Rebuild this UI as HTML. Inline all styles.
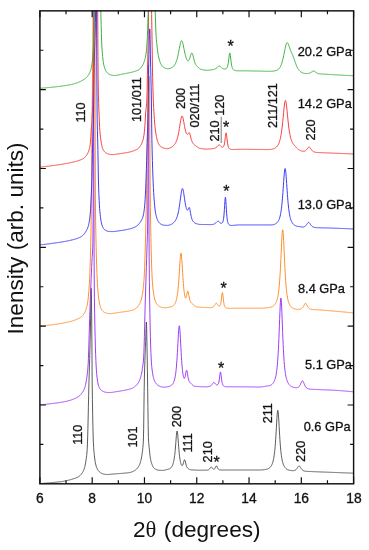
<!DOCTYPE html>
<html lang="en"><head><meta charset="utf-8"><title>XRD patterns</title>
<style>html,body{margin:0;padding:0;background:#fff}svg{display:block}</style></head>
<body>
<svg width="369" height="550" viewBox="0 0 369 550">
<rect width="369" height="550" fill="#fff"/>
<defs><clipPath id="cp"><rect x="39.90" y="10.85" width="313.70" height="472.95"/></clipPath></defs>
<g clip-path="url(#cp)" fill="none" stroke-width="1.0" stroke-linejoin="round">
<path d="M39.90 483.58 L40.15 483.56 L40.40 483.54 L40.65 483.53 L40.90 483.51 L41.15 483.49 L41.40 483.48 L41.65 483.46 L41.90 483.44 L42.15 483.43 L42.40 483.41 L42.65 483.39 L42.90 483.37 L43.15 483.35 L43.40 483.34 L43.65 483.32 L43.90 483.30 L44.15 483.28 L44.40 483.26 L44.65 483.24 L44.90 483.22 L45.15 483.20 L45.40 483.18 L45.65 483.16 L45.90 483.14 L46.15 483.12 L46.40 483.10 L46.65 483.08 L46.90 483.06 L47.15 483.04 L47.40 483.02 L47.65 482.99 L47.90 482.97 L48.15 482.95 L48.40 482.93 L48.65 482.91 L48.90 482.89 L49.15 482.86 L49.40 482.84 L49.65 482.82 L49.90 482.80 L50.15 482.77 L50.40 482.75 L50.65 482.73 L50.90 482.70 L51.15 482.68 L51.40 482.66 L51.65 482.63 L51.90 482.61 L52.15 482.59 L52.40 482.56 L52.65 482.54 L52.90 482.51 L53.15 482.49 L53.40 482.47 L53.65 482.44 L53.90 482.42 L54.15 482.40 L54.40 482.37 L54.65 482.35 L54.90 482.32 L55.15 482.30 L55.40 482.27 L55.65 482.25 L55.90 482.22 L56.15 482.20 L56.40 482.17 L56.65 482.15 L56.90 482.12 L57.15 482.09 L57.40 482.07 L57.65 482.04 L57.90 482.01 L58.15 481.99 L58.40 481.96 L58.65 481.93 L58.90 481.90 L59.15 481.87 L59.40 481.84 L59.65 481.81 L59.90 481.78 L60.15 481.75 L60.40 481.72 L60.65 481.69 L60.90 481.65 L61.15 481.62 L61.40 481.59 L61.65 481.55 L61.90 481.52 L62.15 481.48 L62.40 481.45 L62.65 481.41 L62.90 481.37 L63.15 481.33 L63.40 481.30 L63.65 481.26 L63.90 481.22 L64.15 481.18 L64.40 481.13 L64.65 481.09 L64.90 481.04 L65.15 480.99 L65.40 480.95 L65.65 480.90 L65.90 480.84 L66.15 480.79 L66.40 480.73 L66.65 480.68 L66.90 480.62 L67.15 480.56 L67.40 480.50 L67.65 480.44 L67.90 480.38 L68.15 480.31 L68.40 480.25 L68.65 480.18 L68.90 480.12 L69.15 480.05 L69.40 479.98 L69.65 479.91 L69.90 479.84 L70.15 479.77 L70.40 479.70 L70.65 479.62 L70.90 479.55 L71.15 479.48 L71.40 479.40 L71.65 479.33 L71.90 479.25 L72.15 479.18 L72.40 479.10 L72.65 479.02 L72.90 478.94 L73.15 478.87 L73.40 478.79 L73.65 478.71 L73.90 478.63 L74.15 478.55 L74.40 478.47 L74.65 478.40 L74.90 478.32 L75.15 478.23 L75.40 478.15 L75.65 478.06 L75.90 477.98 L76.15 477.88 L76.40 477.79 L76.65 477.69 L76.90 477.58 L77.15 477.47 L77.40 477.35 L77.65 477.22 L77.90 477.09 L78.15 476.94 L78.40 476.79 L78.65 476.63 L78.90 476.45 L79.15 476.27 L79.40 476.07 L79.65 475.87 L79.90 475.66 L80.15 475.43 L80.40 475.20 L80.65 474.95 L80.90 474.68 L81.15 474.40 L81.40 474.09 L81.65 473.76 L81.90 473.41 L82.15 473.04 L82.40 472.64 L82.65 472.22 L82.90 471.77 L83.15 471.30 L83.40 470.79 L83.65 470.23 L83.90 469.61 L84.15 468.92 L84.40 468.17 L84.65 467.34 L84.90 466.42 L85.15 465.31 L85.40 464.03 L85.65 462.60 L85.90 461.03 L86.15 459.36 L86.40 457.58 L86.65 455.53 L86.90 453.05 L87.15 449.80 L87.40 445.00 L87.65 438.00 L87.90 428.72 L88.15 417.98 L88.40 406.57 L88.65 395.31 L88.90 385.00 L89.15 375.81 L89.40 367.12 L89.65 358.57 L89.90 349.78 L90.15 340.38 L90.40 330.00 L90.65 315.06 L90.90 298.20 L91.15 288.34 L91.40 294.67 L91.65 315.44 L91.90 342.51 L92.15 380.26 L92.40 399.18 L92.65 414.23 L92.90 426.45 L93.15 435.96 L93.40 442.91 L93.65 447.52 L93.90 450.68 L94.15 453.32 L94.40 455.83 L94.65 458.08 L94.90 459.97 L95.15 461.46 L95.40 462.79 L95.65 463.97 L95.90 465.02 L96.15 465.92 L96.40 466.70 L96.65 467.38 L96.90 468.02 L97.15 468.60 L97.40 469.13 L97.65 469.60 L97.90 470.03 L98.15 470.40 L98.40 470.72 L98.65 471.02 L98.90 471.30 L99.15 471.56 L99.40 471.80 L99.65 472.02 L99.90 472.23 L100.15 472.42 L100.40 472.59 L100.65 472.75 L100.90 472.90 L101.15 473.04 L101.40 473.17 L101.65 473.29 L101.90 473.41 L102.15 473.52 L102.40 473.63 L102.65 473.72 L102.90 473.81 L103.15 473.90 L103.40 473.97 L103.65 474.04 L103.90 474.10 L104.15 474.16 L104.40 474.21 L104.65 474.26 L104.90 474.32 L105.15 474.36 L105.40 474.40 L105.65 474.44 L105.90 474.47 L106.15 474.49 L106.40 474.50 L106.65 474.50 L106.90 474.50 L107.15 474.49 L107.40 474.49 L107.65 474.48 L107.90 474.47 L108.15 474.46 L108.40 474.45 L108.65 474.44 L108.90 474.42 L109.15 474.41 L109.40 474.39 L109.65 474.37 L109.90 474.35 L110.15 474.33 L110.40 474.31 L110.65 474.29 L110.90 474.27 L111.15 474.25 L111.40 474.22 L111.65 474.20 L111.90 474.18 L112.15 474.15 L112.40 474.13 L112.65 474.10 L112.90 474.08 L113.15 474.06 L113.40 474.03 L113.65 474.01 L113.90 473.98 L114.15 473.96 L114.40 473.94 L114.65 473.91 L114.90 473.89 L115.15 473.87 L115.40 473.85 L115.65 473.83 L115.90 473.81 L116.15 473.79 L116.40 473.77 L116.65 473.75 L116.90 473.73 L117.15 473.72 L117.40 473.70 L117.65 473.68 L117.90 473.66 L118.15 473.65 L118.40 473.63 L118.65 473.61 L118.90 473.59 L119.15 473.58 L119.40 473.56 L119.65 473.54 L119.90 473.52 L120.15 473.51 L120.40 473.49 L120.65 473.47 L120.90 473.45 L121.15 473.43 L121.40 473.42 L121.65 473.40 L121.90 473.38 L122.15 473.36 L122.40 473.34 L122.65 473.32 L122.90 473.30 L123.15 473.28 L123.40 473.25 L123.65 473.23 L123.90 473.21 L124.15 473.19 L124.40 473.16 L124.65 473.14 L124.90 473.12 L125.15 473.10 L125.40 473.07 L125.65 473.05 L125.90 473.03 L126.15 473.01 L126.40 472.98 L126.65 472.96 L126.90 472.93 L127.15 472.90 L127.40 472.88 L127.65 472.85 L127.90 472.82 L128.15 472.79 L128.40 472.75 L128.65 472.72 L128.90 472.68 L129.15 472.65 L129.40 472.61 L129.65 472.56 L129.90 472.52 L130.15 472.47 L130.40 472.41 L130.65 472.35 L130.90 472.28 L131.15 472.20 L131.40 472.11 L131.65 472.02 L131.90 471.92 L132.15 471.82 L132.40 471.71 L132.65 471.60 L132.90 471.49 L133.15 471.37 L133.40 471.25 L133.65 471.13 L133.90 470.99 L134.15 470.85 L134.40 470.71 L134.65 470.55 L134.90 470.38 L135.15 470.21 L135.40 470.02 L135.65 469.83 L135.90 469.63 L136.15 469.41 L136.40 469.19 L136.65 468.96 L136.90 468.71 L137.15 468.44 L137.40 468.16 L137.65 467.85 L137.90 467.52 L138.15 467.17 L138.40 466.80 L138.65 466.39 L138.90 465.96 L139.15 465.51 L139.40 464.99 L139.65 464.40 L139.90 463.74 L140.15 463.01 L140.40 462.21 L140.65 461.35 L140.90 460.41 L141.15 459.33 L141.40 458.09 L141.65 456.71 L141.90 455.20 L142.15 453.56 L142.40 451.75 L142.65 449.66 L142.90 447.21 L143.15 444.29 L143.40 440.00 L143.65 428.85 L143.90 410.66 L144.15 391.39 L144.40 377.00 L144.65 367.96 L144.90 360.42 L145.15 353.83 L145.40 347.65 L145.65 341.33 L145.90 333.69 L146.15 325.70 L146.40 322.00 L146.65 328.18 L146.90 340.00 L147.15 353.97 L147.40 370.56 L147.65 387.23 L147.90 406.41 L148.15 424.54 L148.40 437.33 L148.65 442.36 L148.90 445.13 L149.15 447.29 L149.40 449.75 L149.65 452.45 L149.90 454.94 L150.15 456.82 L150.40 458.31 L150.65 459.63 L150.90 460.79 L151.15 461.80 L151.40 462.68 L151.65 463.46 L151.90 464.18 L152.15 464.85 L152.40 465.47 L152.65 466.03 L152.90 466.52 L153.15 466.95 L153.40 467.30 L153.65 467.61 L153.90 467.90 L154.15 468.17 L154.40 468.42 L154.65 468.65 L154.90 468.85 L155.15 469.04 L155.40 469.21 L155.65 469.35 L155.90 469.46 L156.15 469.55 L156.40 469.64 L156.65 469.73 L156.90 469.81 L157.15 469.88 L157.40 469.95 L157.65 470.02 L157.90 470.07 L158.15 470.13 L158.40 470.17 L158.65 470.21 L158.90 470.25 L159.15 470.27 L159.40 470.29 L159.65 470.31 L159.90 470.32 L160.15 470.33 L160.40 470.34 L160.65 470.35 L160.90 470.36 L161.15 470.37 L161.40 470.38 L161.65 470.38 L161.90 470.39 L162.15 470.39 L162.40 470.40 L162.65 470.40 L162.90 470.40 L163.15 470.40 L163.40 470.38 L163.65 470.36 L163.90 470.33 L164.15 470.28 L164.40 470.23 L164.65 470.17 L164.90 470.11 L165.15 470.04 L165.40 469.97 L165.65 469.90 L165.90 469.82 L166.15 469.75 L166.40 469.67 L166.65 469.60 L166.90 469.52 L167.15 469.46 L167.40 469.40 L167.65 469.34 L167.90 469.28 L168.15 469.22 L168.40 469.16 L168.65 469.10 L168.90 469.03 L169.15 468.95 L169.40 468.86 L169.65 468.75 L169.90 468.63 L170.15 468.48 L170.40 468.30 L170.65 468.10 L170.90 467.87 L171.15 467.60 L171.40 467.30 L171.65 466.95 L171.90 466.55 L172.15 466.10 L172.40 465.59 L172.65 465.00 L172.90 464.31 L173.15 463.53 L173.40 462.62 L173.65 461.57 L173.90 460.36 L174.15 458.99 L174.40 457.38 L174.65 455.49 L174.90 453.30 L175.15 450.79 L175.40 447.97 L175.65 444.88 L175.90 441.62 L176.15 438.36 L176.40 435.34 L176.65 432.89 L176.90 431.37 L177.15 431.03 L177.40 431.93 L177.65 433.93 L177.90 436.71 L178.15 439.93 L178.40 443.28 L178.65 446.55 L178.90 449.60 L179.15 452.36 L179.40 454.79 L179.65 456.89 L179.90 458.69 L180.15 460.20 L180.40 461.48 L180.65 462.58 L180.90 463.50 L181.15 464.24 L181.40 464.83 L181.65 465.25 L181.90 465.50 L182.15 465.58 L182.40 465.50 L182.65 465.22 L182.90 464.74 L183.15 464.05 L183.40 463.20 L183.65 462.23 L183.90 461.24 L184.15 460.39 L184.40 459.83 L184.65 459.72 L184.90 460.09 L185.15 460.86 L185.40 461.88 L185.65 462.98 L185.90 464.05 L186.15 465.02 L186.40 465.85 L186.65 466.51 L186.90 467.04 L187.15 467.47 L187.40 467.83 L187.65 468.10 L187.90 468.32 L188.15 468.51 L188.40 468.67 L188.65 468.83 L188.90 468.98 L189.15 469.13 L189.40 469.27 L189.65 469.39 L189.90 469.50 L190.15 469.60 L190.40 469.68 L190.65 469.75 L190.90 469.79 L191.15 469.81 L191.40 469.83 L191.65 469.85 L191.90 469.87 L192.15 469.89 L192.40 469.91 L192.65 469.93 L192.90 469.95 L193.15 469.97 L193.40 469.98 L193.65 470.00 L193.90 470.01 L194.15 470.03 L194.40 470.04 L194.65 470.06 L194.90 470.07 L195.15 470.08 L195.40 470.09 L195.65 470.10 L195.90 470.12 L196.15 470.12 L196.40 470.13 L196.65 470.14 L196.90 470.15 L197.15 470.16 L197.40 470.17 L197.65 470.17 L197.90 470.18 L198.15 470.18 L198.40 470.19 L198.65 470.19 L198.90 470.19 L199.15 470.20 L199.40 470.20 L199.65 470.20 L199.90 470.20 L200.15 470.20 L200.40 470.20 L200.65 470.20 L200.90 470.20 L201.15 470.20 L201.40 470.20 L201.65 470.20 L201.90 470.20 L202.15 470.20 L202.40 470.20 L202.65 470.20 L202.90 470.20 L203.15 470.20 L203.40 470.20 L203.65 470.20 L203.90 470.20 L204.15 470.20 L204.40 470.20 L204.65 470.20 L204.90 470.20 L205.15 470.20 L205.40 470.20 L205.65 470.20 L205.90 470.20 L206.15 470.19 L206.40 470.18 L206.65 470.16 L206.90 470.14 L207.15 470.12 L207.40 470.08 L207.65 470.03 L207.90 469.97 L208.15 469.90 L208.40 469.79 L208.65 469.67 L208.90 469.51 L209.15 469.32 L209.40 469.08 L209.65 468.79 L209.90 468.45 L210.15 468.09 L210.40 467.72 L210.65 467.38 L210.90 467.12 L211.15 467.00 L211.40 467.05 L211.65 467.25 L211.90 467.55 L212.15 467.89 L212.40 468.24 L212.65 468.55 L212.90 468.82 L213.15 469.02 L213.40 469.15 L213.65 469.22 L213.90 469.22 L214.15 469.15 L214.40 469.00 L214.65 468.77 L214.90 468.44 L215.15 468.01 L215.40 467.50 L215.65 466.95 L215.90 466.43 L216.15 466.04 L216.40 465.90 L216.65 466.05 L216.90 466.44 L217.15 466.97 L217.40 467.53 L217.65 468.06 L217.90 468.52 L218.15 468.89 L218.40 469.17 L218.65 469.40 L218.90 469.57 L219.15 469.70 L219.40 469.80 L219.65 469.86 L219.90 469.91 L220.15 469.95 L220.40 469.97 L220.65 469.99 L220.90 470.00 L221.15 470.00 L221.40 470.00 L221.65 470.00 L221.90 470.00 L222.15 470.00 L222.40 470.00 L222.65 470.00 L222.90 470.00 L223.15 470.00 L223.40 470.00 L223.65 470.00 L223.90 470.00 L224.15 470.00 L224.40 470.00 L224.65 470.00 L224.90 470.00 L225.15 470.00 L225.40 470.00 L225.65 470.00 L225.90 470.00 L226.15 470.00 L226.40 470.00 L226.65 470.00 L226.90 470.00 L227.15 470.00 L227.40 470.00 L227.65 470.00 L227.90 470.00 L228.15 470.00 L228.40 470.00 L228.65 470.00 L228.90 470.00 L229.15 470.00 L229.40 470.00 L229.65 470.00 L229.90 470.00 L230.15 470.00 L230.40 470.00 L230.65 470.00 L230.90 470.00 L231.15 470.00 L231.40 470.00 L231.65 470.00 L231.90 470.00 L232.15 470.00 L232.40 470.00 L232.65 470.00 L232.90 470.00 L233.15 470.00 L233.40 470.00 L233.65 470.00 L233.90 470.00 L234.15 470.00 L234.40 470.00 L234.65 470.00 L234.90 470.00 L235.15 470.00 L235.40 470.00 L235.65 470.00 L235.90 470.00 L236.15 470.00 L236.40 470.00 L236.65 470.00 L236.90 470.00 L237.15 470.00 L237.40 470.00 L237.65 470.00 L237.90 470.00 L238.15 470.00 L238.40 470.00 L238.65 470.00 L238.90 470.00 L239.15 470.00 L239.40 470.00 L239.65 470.00 L239.90 470.00 L240.15 470.00 L240.40 470.00 L240.65 470.00 L240.90 470.00 L241.15 470.00 L241.40 470.00 L241.65 470.00 L241.90 470.00 L242.15 470.00 L242.40 470.00 L242.65 470.00 L242.90 470.00 L243.15 470.00 L243.40 470.00 L243.65 470.00 L243.90 470.00 L244.15 470.00 L244.40 470.00 L244.65 470.00 L244.90 470.00 L245.15 470.00 L245.40 470.00 L245.65 470.00 L245.90 470.00 L246.15 470.00 L246.40 470.00 L246.65 470.00 L246.90 470.00 L247.15 470.00 L247.40 470.00 L247.65 470.00 L247.90 470.00 L248.15 470.00 L248.40 470.00 L248.65 470.00 L248.90 470.00 L249.15 470.00 L249.40 470.00 L249.65 470.00 L249.90 470.00 L250.15 470.00 L250.40 470.00 L250.65 470.00 L250.90 470.00 L251.15 470.00 L251.40 470.00 L251.65 470.00 L251.90 470.00 L252.15 470.00 L252.40 470.00 L252.65 470.00 L252.90 470.00 L253.15 470.00 L253.40 470.00 L253.65 470.00 L253.90 470.00 L254.15 470.00 L254.40 470.00 L254.65 470.00 L254.90 470.00 L255.15 470.00 L255.40 470.00 L255.65 470.00 L255.90 470.00 L256.15 470.00 L256.40 470.00 L256.65 470.00 L256.90 470.00 L257.15 470.00 L257.40 470.00 L257.65 470.00 L257.90 470.00 L258.15 470.00 L258.40 470.00 L258.65 470.00 L258.90 470.00 L259.15 470.00 L259.40 470.00 L259.65 470.00 L259.90 470.00 L260.15 470.00 L260.40 470.00 L260.65 469.99 L260.90 469.98 L261.15 469.96 L261.40 469.95 L261.65 469.93 L261.90 469.90 L262.15 469.88 L262.40 469.86 L262.65 469.83 L262.90 469.80 L263.15 469.77 L263.40 469.74 L263.65 469.71 L263.90 469.68 L264.15 469.65 L264.40 469.61 L264.65 469.58 L264.90 469.55 L265.15 469.52 L265.40 469.49 L265.65 469.45 L265.90 469.40 L266.15 469.35 L266.40 469.30 L266.65 469.24 L266.90 469.17 L267.15 469.10 L267.40 469.02 L267.65 468.94 L267.90 468.84 L268.15 468.74 L268.40 468.62 L268.65 468.48 L268.90 468.34 L269.15 468.17 L269.40 467.99 L269.65 467.78 L269.90 467.56 L270.15 467.31 L270.40 467.03 L270.65 466.73 L270.90 466.39 L271.15 466.02 L271.40 465.61 L271.65 465.15 L271.90 464.64 L272.15 464.07 L272.40 463.43 L272.65 462.70 L272.90 461.88 L273.15 460.94 L273.40 459.87 L273.65 458.64 L273.90 457.23 L274.15 455.62 L274.40 453.80 L274.65 451.69 L274.90 449.27 L275.15 446.49 L275.40 443.34 L275.65 439.81 L275.90 435.93 L276.15 431.73 L276.40 427.32 L276.65 422.86 L276.90 418.60 L277.15 414.88 L277.40 412.05 L277.65 410.46 L277.90 410.33 L278.15 411.66 L278.40 414.29 L278.65 417.90 L278.90 422.10 L279.15 426.57 L279.40 431.03 L279.65 435.31 L279.90 439.29 L280.15 442.92 L280.40 446.17 L280.65 449.04 L280.90 451.56 L281.15 453.76 L281.40 455.66 L281.65 457.33 L281.90 458.80 L282.15 460.09 L282.40 461.22 L282.65 462.20 L282.90 463.07 L283.15 463.84 L283.40 464.52 L283.65 465.12 L283.90 465.66 L284.15 466.15 L284.40 466.59 L284.65 466.99 L284.90 467.35 L285.15 467.68 L285.40 467.98 L285.65 468.25 L285.90 468.50 L286.15 468.72 L286.40 468.92 L286.65 469.10 L286.90 469.27 L287.15 469.41 L287.40 469.55 L287.65 469.67 L287.90 469.77 L288.15 469.87 L288.40 469.95 L288.65 470.03 L288.90 470.09 L289.15 470.15 L289.40 470.20 L289.65 470.25 L289.90 470.29 L290.15 470.32 L290.40 470.36 L290.65 470.41 L290.90 470.45 L291.15 470.50 L291.40 470.54 L291.65 470.59 L291.90 470.63 L292.15 470.66 L292.40 470.69 L292.65 470.70 L292.90 470.70 L293.15 470.69 L293.40 470.67 L293.65 470.64 L293.90 470.60 L294.15 470.55 L294.40 470.49 L294.65 470.41 L294.90 470.31 L295.15 470.19 L295.40 470.04 L295.65 469.88 L295.90 469.69 L296.15 469.47 L296.40 469.21 L296.65 468.91 L296.90 468.58 L297.15 468.21 L297.40 467.83 L297.65 467.43 L297.90 467.03 L298.15 466.66 L298.40 466.33 L298.65 466.08 L298.90 465.93 L299.15 465.90 L299.40 466.00 L299.65 466.21 L299.90 466.51 L300.15 466.87 L300.40 467.27 L300.65 467.69 L300.90 468.10 L301.15 468.50 L301.40 468.87 L301.65 469.21 L301.90 469.51 L302.15 469.77 L302.40 470.00 L302.65 470.20 L302.90 470.38 L303.15 470.53 L303.40 470.67 L303.65 470.78 L303.90 470.88 L304.15 470.96 L304.40 471.03 L304.65 471.09 L304.90 471.15 L305.15 471.19 L305.40 471.23 L305.65 471.27 L305.90 471.30 L306.15 471.33 L306.40 471.35 L306.65 471.37 L306.90 471.39 L307.15 471.40 L307.40 471.41 L307.65 471.42 L307.90 471.43 L308.15 471.44 L308.40 471.45 L308.65 471.46 L308.90 471.47 L309.15 471.48 L309.40 471.49 L309.65 471.50 L309.90 471.51 L310.15 471.52 L310.40 471.53 L310.65 471.54 L310.90 471.55 L311.15 471.56 L311.40 471.57 L311.65 471.58 L311.90 471.59 L312.15 471.60 L312.40 471.61 L312.65 471.62 L312.90 471.63 L313.15 471.64 L313.40 471.65 L313.65 471.66 L313.90 471.67 L314.15 471.68 L314.40 471.69 L314.65 471.70 L314.90 471.71 L315.15 471.72 L315.40 471.73 L315.65 471.74 L315.90 471.75 L316.15 471.76 L316.40 471.77 L316.65 471.78 L316.90 471.79 L317.15 471.80 L317.40 471.81 L317.65 471.82 L317.90 471.83 L318.15 471.84 L318.40 471.85 L318.65 471.86 L318.90 471.87 L319.15 471.88 L319.40 471.89 L319.65 471.90 L319.90 471.91 L320.15 471.92 L320.40 471.93 L320.65 471.94 L320.90 471.95 L321.15 471.96 L321.40 471.97 L321.65 471.98 L321.90 471.99 L322.15 472.00 L322.40 472.01 L322.65 472.02 L322.90 472.03 L323.15 472.03 L323.40 472.04 L323.65 472.05 L323.90 472.06 L324.15 472.07 L324.40 472.08 L324.65 472.09 L324.90 472.10 L325.15 472.11 L325.40 472.12 L325.65 472.13 L325.90 472.14 L326.15 472.15 L326.40 472.16 L326.65 472.17 L326.90 472.18 L327.15 472.19 L327.40 472.20 L327.65 472.21 L327.90 472.22 L328.15 472.23 L328.40 472.24 L328.65 472.25 L328.90 472.26 L329.15 472.27 L329.40 472.28 L329.65 472.29 L329.90 472.30 L330.15 472.31 L330.40 472.32 L330.65 472.32 L330.90 472.33 L331.15 472.34 L331.40 472.35 L331.65 472.36 L331.90 472.37 L332.15 472.38 L332.40 472.39 L332.65 472.40 L332.90 472.41 L333.15 472.42 L333.40 472.43 L333.65 472.44 L333.90 472.45 L334.15 472.46 L334.40 472.47 L334.65 472.48 L334.90 472.49 L335.15 472.50 L335.40 472.51 L335.65 472.52 L335.90 472.53 L336.15 472.53 L336.40 472.54 L336.65 472.55 L336.90 472.56 L337.15 472.57 L337.40 472.58 L337.65 472.59 L337.90 472.60 L338.15 472.61 L338.40 472.62 L338.65 472.63 L338.90 472.64 L339.15 472.65 L339.40 472.66 L339.65 472.67 L339.90 472.68 L340.15 472.69 L340.40 472.70 L340.65 472.70 L340.90 472.71 L341.15 472.72 L341.40 472.73 L341.65 472.74 L341.90 472.75 L342.15 472.76 L342.40 472.77 L342.65 472.78 L342.90 472.79 L343.15 472.80 L343.40 472.81 L343.65 472.82 L343.90 472.83 L344.15 472.84 L344.40 472.85 L344.65 472.85 L344.90 472.86 L345.15 472.87 L345.40 472.88 L345.65 472.89 L345.90 472.90 L346.15 472.91 L346.40 472.92 L346.65 472.93 L346.90 472.94 L347.15 472.95 L347.40 472.96 L347.65 472.97 L347.90 472.98 L348.15 472.98 L348.40 472.99 L348.65 473.00 L348.90 473.01 L349.15 473.02 L349.40 473.03 L349.65 473.04 L349.90 473.05 L350.15 473.06 L350.40 473.07 L350.65 473.08 L350.90 473.09 L351.15 473.10 L351.40 473.10 L351.65 473.11 L351.90 473.12 L352.15 473.13 L352.40 473.14 L352.65 473.15 L352.90 473.16 L353.15 473.17 L353.40 473.18" stroke="#4a4a4a" stroke-width="0.9"/>
<path d="M39.90 404.77 L40.15 404.76 L40.40 404.74 L40.65 404.72 L40.90 404.71 L41.15 404.69 L41.40 404.67 L41.65 404.65 L41.90 404.63 L42.15 404.61 L42.40 404.59 L42.65 404.57 L42.90 404.55 L43.15 404.53 L43.40 404.51 L43.65 404.48 L43.90 404.46 L44.15 404.44 L44.40 404.42 L44.65 404.39 L44.90 404.37 L45.15 404.35 L45.40 404.32 L45.65 404.30 L45.90 404.27 L46.15 404.25 L46.40 404.22 L46.65 404.20 L46.90 404.17 L47.15 404.14 L47.40 404.12 L47.65 404.09 L47.90 404.06 L48.15 404.03 L48.40 404.01 L48.65 403.98 L48.90 403.95 L49.15 403.92 L49.40 403.89 L49.65 403.87 L49.90 403.84 L50.15 403.81 L50.40 403.78 L50.65 403.75 L50.90 403.72 L51.15 403.69 L51.40 403.66 L51.65 403.63 L51.90 403.60 L52.15 403.56 L52.40 403.53 L52.65 403.50 L52.90 403.47 L53.15 403.44 L53.40 403.41 L53.65 403.38 L53.90 403.34 L54.15 403.31 L54.40 403.28 L54.65 403.25 L54.90 403.21 L55.15 403.18 L55.40 403.15 L55.65 403.11 L55.90 403.08 L56.15 403.05 L56.40 403.01 L56.65 402.98 L56.90 402.94 L57.15 402.91 L57.40 402.87 L57.65 402.84 L57.90 402.80 L58.15 402.76 L58.40 402.73 L58.65 402.69 L58.90 402.65 L59.15 402.61 L59.40 402.58 L59.65 402.54 L59.90 402.50 L60.15 402.46 L60.40 402.42 L60.65 402.38 L60.90 402.34 L61.15 402.29 L61.40 402.25 L61.65 402.21 L61.90 402.16 L62.15 402.12 L62.40 402.08 L62.65 402.03 L62.90 401.98 L63.15 401.94 L63.40 401.89 L63.65 401.84 L63.90 401.80 L64.15 401.75 L64.40 401.70 L64.65 401.65 L64.90 401.60 L65.15 401.54 L65.40 401.49 L65.65 401.44 L65.90 401.38 L66.15 401.33 L66.40 401.27 L66.65 401.22 L66.90 401.16 L67.15 401.10 L67.40 401.04 L67.65 400.98 L67.90 400.92 L68.15 400.86 L68.40 400.80 L68.65 400.73 L68.90 400.67 L69.15 400.60 L69.40 400.53 L69.65 400.46 L69.90 400.38 L70.15 400.30 L70.40 400.23 L70.65 400.15 L70.90 400.06 L71.15 399.98 L71.40 399.89 L71.65 399.81 L71.90 399.72 L72.15 399.63 L72.40 399.53 L72.65 399.44 L72.90 399.34 L73.15 399.24 L73.40 399.14 L73.65 399.04 L73.90 398.94 L74.15 398.83 L74.40 398.73 L74.65 398.62 L74.90 398.51 L75.15 398.40 L75.40 398.28 L75.65 398.17 L75.90 398.05 L76.15 397.93 L76.40 397.80 L76.65 397.68 L76.90 397.54 L77.15 397.41 L77.40 397.26 L77.65 397.11 L77.90 396.96 L78.15 396.80 L78.40 396.63 L78.65 396.45 L78.90 396.27 L79.15 396.08 L79.40 395.88 L79.65 395.67 L79.90 395.45 L80.15 395.21 L80.40 394.96 L80.65 394.69 L80.90 394.41 L81.15 394.12 L81.40 393.81 L81.65 393.49 L81.90 393.15 L82.15 392.81 L82.40 392.45 L82.65 392.08 L82.90 391.69 L83.15 391.29 L83.40 390.87 L83.65 390.41 L83.90 389.91 L84.15 389.37 L84.40 388.78 L84.65 388.14 L84.90 387.40 L85.15 386.50 L85.40 385.47 L85.65 384.33 L85.90 383.09 L86.15 381.77 L86.40 380.34 L86.65 378.71 L86.90 376.90 L87.15 374.94 L87.40 372.86 L87.65 370.67 L87.90 368.00 L88.15 364.28 L88.40 358.84 L88.65 351.99 L88.90 344.13 L89.15 335.67 L89.40 327.00 L89.65 318.51 L89.90 310.62 L90.15 303.69 L90.40 297.25 L90.65 290.95 L90.90 284.81 L91.15 278.84 L91.40 273.06 L91.65 267.47 L91.90 262.09 L92.15 257.36 L92.40 254.03 L92.65 250.03 L92.90 243.00 L93.15 217.18 L93.40 115.00 L93.65 -29.11 L93.90 183.00 L94.15 266.99 L94.40 297.10 L94.65 313.92 L94.90 326.90 L95.15 337.76 L95.40 346.81 L95.65 354.34 L95.90 360.64 L96.15 366.00 L96.40 370.22 L96.65 373.36 L96.90 375.94 L97.15 378.13 L97.40 379.96 L97.65 381.50 L97.90 382.91 L98.15 384.16 L98.40 385.22 L98.65 386.06 L98.90 386.71 L99.15 387.29 L99.40 387.81 L99.65 388.27 L99.90 388.68 L100.15 389.05 L100.40 389.37 L100.65 389.65 L100.90 389.90 L101.15 390.13 L101.40 390.34 L101.65 390.54 L101.90 390.72 L102.15 390.89 L102.40 391.04 L102.65 391.19 L102.90 391.32 L103.15 391.43 L103.40 391.54 L103.65 391.64 L103.90 391.74 L104.15 391.83 L104.40 391.92 L104.65 392.00 L104.90 392.07 L105.15 392.14 L105.40 392.20 L105.65 392.25 L105.90 392.30 L106.15 392.34 L106.40 392.38 L106.65 392.42 L106.90 392.46 L107.15 392.50 L107.40 392.53 L107.65 392.56 L107.90 392.58 L108.15 392.59 L108.40 392.60 L108.65 392.60 L108.90 392.60 L109.15 392.59 L109.40 392.58 L109.65 392.57 L109.90 392.56 L110.15 392.54 L110.40 392.52 L110.65 392.50 L110.90 392.48 L111.15 392.45 L111.40 392.42 L111.65 392.39 L111.90 392.36 L112.15 392.33 L112.40 392.30 L112.65 392.26 L112.90 392.23 L113.15 392.19 L113.40 392.15 L113.65 392.11 L113.90 392.07 L114.15 392.03 L114.40 391.99 L114.65 391.95 L114.90 391.91 L115.15 391.87 L115.40 391.82 L115.65 391.78 L115.90 391.74 L116.15 391.70 L116.40 391.65 L116.65 391.61 L116.90 391.57 L117.15 391.53 L117.40 391.49 L117.65 391.45 L117.90 391.41 L118.15 391.38 L118.40 391.34 L118.65 391.30 L118.90 391.27 L119.15 391.23 L119.40 391.19 L119.65 391.15 L119.90 391.11 L120.15 391.07 L120.40 391.03 L120.65 390.99 L120.90 390.95 L121.15 390.91 L121.40 390.87 L121.65 390.82 L121.90 390.78 L122.15 390.74 L122.40 390.70 L122.65 390.65 L122.90 390.61 L123.15 390.56 L123.40 390.52 L123.65 390.47 L123.90 390.42 L124.15 390.37 L124.40 390.33 L124.65 390.28 L124.90 390.23 L125.15 390.18 L125.40 390.13 L125.65 390.07 L125.90 390.02 L126.15 389.97 L126.40 389.91 L126.65 389.86 L126.90 389.81 L127.15 389.75 L127.40 389.70 L127.65 389.64 L127.90 389.58 L128.15 389.52 L128.40 389.46 L128.65 389.40 L128.90 389.34 L129.15 389.27 L129.40 389.20 L129.65 389.13 L129.90 389.06 L130.15 388.98 L130.40 388.90 L130.65 388.82 L130.90 388.73 L131.15 388.65 L131.40 388.55 L131.65 388.45 L131.90 388.35 L132.15 388.24 L132.40 388.12 L132.65 388.00 L132.90 387.87 L133.15 387.73 L133.40 387.59 L133.65 387.45 L133.90 387.29 L134.15 387.13 L134.40 386.97 L134.65 386.79 L134.90 386.61 L135.15 386.41 L135.40 386.20 L135.65 385.97 L135.90 385.73 L136.15 385.48 L136.40 385.21 L136.65 384.93 L136.90 384.64 L137.15 384.34 L137.40 384.03 L137.65 383.70 L137.90 383.35 L138.15 382.98 L138.40 382.58 L138.65 382.15 L138.90 381.69 L139.15 381.20 L139.40 380.68 L139.65 380.12 L139.90 379.51 L140.15 378.82 L140.40 378.07 L140.65 377.24 L140.90 376.33 L141.15 375.35 L141.40 374.30 L141.65 373.11 L141.90 371.75 L142.15 370.23 L142.40 368.60 L142.65 366.86 L142.90 365.10 L143.15 363.25 L143.40 361.01 L143.65 357.99 L143.90 352.79 L144.15 345.31 L144.40 336.22 L144.65 326.19 L144.90 315.86 L145.15 305.91 L145.40 297.00 L145.65 289.06 L145.90 281.44 L146.15 273.94 L146.40 266.33 L146.65 258.43 L146.90 250.00 L147.15 242.72 L147.40 235.71 L147.65 224.94 L147.90 195.86 L148.15 122.96 L148.40 64.93 L148.65 79.92 L148.90 215.00 L149.15 256.22 L149.40 282.26 L149.65 299.97 L149.90 313.79 L150.15 325.88 L150.40 336.31 L150.65 345.11 L150.90 352.33 L151.15 358.01 L151.40 362.23 L151.65 365.36 L151.90 367.92 L152.15 370.08 L152.40 371.93 L152.65 373.56 L152.90 375.06 L153.15 376.41 L153.40 377.58 L153.65 378.54 L153.90 379.30 L154.15 379.99 L154.40 380.62 L154.65 381.18 L154.90 381.69 L155.15 382.15 L155.40 382.56 L155.65 382.93 L155.90 383.27 L156.15 383.60 L156.40 383.90 L156.65 384.19 L156.90 384.46 L157.15 384.70 L157.40 384.93 L157.65 385.15 L157.90 385.34 L158.15 385.51 L158.40 385.66 L158.65 385.80 L158.90 385.94 L159.15 386.06 L159.40 386.18 L159.65 386.29 L159.90 386.40 L160.15 386.49 L160.40 386.57 L160.65 386.64 L160.90 386.70 L161.15 386.75 L161.40 386.81 L161.65 386.86 L161.90 386.91 L162.15 386.95 L162.40 387.00 L162.65 387.04 L162.90 387.08 L163.15 387.11 L163.40 387.14 L163.65 387.16 L163.90 387.18 L164.15 387.19 L164.40 387.20 L164.65 387.20 L164.90 387.19 L165.15 387.17 L165.40 387.15 L165.65 387.11 L165.90 387.08 L166.15 387.03 L166.40 386.99 L166.65 386.93 L166.90 386.88 L167.15 386.82 L167.40 386.76 L167.65 386.70 L167.90 386.64 L168.15 386.58 L168.40 386.53 L168.65 386.47 L168.90 386.41 L169.15 386.35 L169.40 386.29 L169.65 386.21 L169.90 386.12 L170.15 386.02 L170.40 385.92 L170.65 385.79 L170.90 385.66 L171.15 385.51 L171.40 385.33 L171.65 385.13 L171.90 384.90 L172.15 384.65 L172.40 384.35 L172.65 384.02 L172.90 383.65 L173.15 383.23 L173.40 382.75 L173.65 382.21 L173.90 381.59 L174.15 380.89 L174.40 380.08 L174.65 379.14 L174.90 378.05 L175.15 376.79 L175.40 375.33 L175.65 373.64 L175.90 371.72 L176.15 369.53 L176.40 366.96 L176.65 364.01 L176.90 360.65 L177.15 356.88 L177.40 352.74 L177.65 348.27 L177.90 343.60 L178.15 338.90 L178.40 334.44 L178.65 330.55 L178.90 327.61 L179.15 325.96 L179.40 325.84 L179.65 327.26 L179.90 330.03 L180.15 333.83 L180.40 338.28 L180.65 343.02 L180.90 347.77 L181.15 352.35 L181.40 356.61 L181.65 360.49 L181.90 363.93 L182.15 366.95 L182.40 369.54 L182.65 371.73 L182.90 373.58 L183.15 375.13 L183.40 376.38 L183.65 377.34 L183.90 378.00 L184.15 378.33 L184.40 378.37 L184.65 378.08 L184.90 377.46 L185.15 376.51 L185.40 375.30 L185.65 373.91 L185.90 372.48 L186.15 371.23 L186.40 370.41 L186.65 370.22 L186.90 370.73 L187.15 371.82 L187.40 373.27 L187.65 374.84 L187.90 376.36 L188.15 377.74 L188.40 378.91 L188.65 379.86 L188.90 380.61 L189.15 381.22 L189.40 381.70 L189.65 382.09 L189.90 382.39 L190.15 382.65 L190.40 382.90 L190.65 383.15 L190.90 383.39 L191.15 383.64 L191.40 383.89 L191.65 384.13 L191.90 384.37 L192.15 384.61 L192.40 384.84 L192.65 385.07 L192.90 385.30 L193.15 385.51 L193.40 385.70 L193.65 385.87 L193.90 386.01 L194.15 386.12 L194.40 386.19 L194.65 386.22 L194.90 386.24 L195.15 386.27 L195.40 386.29 L195.65 386.32 L195.90 386.34 L196.15 386.37 L196.40 386.39 L196.65 386.41 L196.90 386.43 L197.15 386.45 L197.40 386.47 L197.65 386.49 L197.90 386.51 L198.15 386.53 L198.40 386.55 L198.65 386.56 L198.90 386.58 L199.15 386.60 L199.40 386.61 L199.65 386.63 L199.90 386.64 L200.15 386.65 L200.40 386.67 L200.65 386.68 L200.90 386.69 L201.15 386.70 L201.40 386.71 L201.65 386.72 L201.90 386.73 L202.15 386.74 L202.40 386.75 L202.65 386.75 L202.90 386.76 L203.15 386.77 L203.40 386.77 L203.65 386.78 L203.90 386.78 L204.15 386.79 L204.40 386.79 L204.65 386.79 L204.90 386.80 L205.15 386.80 L205.40 386.80 L205.65 386.80 L205.90 386.80 L206.15 386.80 L206.40 386.80 L206.65 386.79 L206.90 386.79 L207.15 386.78 L207.40 386.76 L207.65 386.74 L207.90 386.72 L208.15 386.69 L208.40 386.65 L208.65 386.61 L208.90 386.56 L209.15 386.50 L209.40 386.44 L209.65 386.36 L209.90 386.26 L210.15 386.15 L210.40 386.02 L210.65 385.86 L210.90 385.68 L211.15 385.47 L211.40 385.23 L211.65 384.95 L211.90 384.63 L212.15 384.29 L212.40 383.92 L212.65 383.54 L212.90 383.17 L213.15 382.84 L213.40 382.59 L213.65 382.43 L213.90 382.40 L214.15 382.50 L214.40 382.69 L214.65 382.96 L214.90 383.27 L215.15 383.60 L215.40 383.91 L215.65 384.19 L215.90 384.43 L216.15 384.63 L216.40 384.78 L216.65 384.87 L216.90 384.92 L217.15 384.92 L217.40 384.87 L217.65 384.75 L217.90 384.54 L218.15 384.21 L218.40 383.71 L218.65 382.99 L218.90 382.00 L219.15 380.67 L219.40 378.98 L219.65 376.99 L219.90 374.89 L220.15 373.04 L220.40 371.99 L220.65 372.15 L220.90 373.47 L221.15 375.48 L221.40 377.65 L221.65 379.66 L221.90 381.36 L222.15 382.69 L222.40 383.70 L222.65 384.46 L222.90 385.01 L223.15 385.41 L223.40 385.71 L223.65 385.93 L223.90 386.11 L224.15 386.25 L224.40 386.36 L224.65 386.45 L224.90 386.53 L225.15 386.59 L225.40 386.63 L225.65 386.67 L225.90 386.70 L226.15 386.72 L226.40 386.74 L226.65 386.75 L226.90 386.76 L227.15 386.76 L227.40 386.76 L227.65 386.76 L227.90 386.76 L228.15 386.76 L228.40 386.76 L228.65 386.77 L228.90 386.77 L229.15 386.77 L229.40 386.77 L229.65 386.77 L229.90 386.77 L230.15 386.77 L230.40 386.77 L230.65 386.77 L230.90 386.77 L231.15 386.77 L231.40 386.77 L231.65 386.77 L231.90 386.78 L232.15 386.78 L232.40 386.78 L232.65 386.78 L232.90 386.78 L233.15 386.78 L233.40 386.78 L233.65 386.78 L233.90 386.78 L234.15 386.78 L234.40 386.78 L234.65 386.78 L234.90 386.78 L235.15 386.78 L235.40 386.78 L235.65 386.78 L235.90 386.78 L236.15 386.79 L236.40 386.79 L236.65 386.79 L236.90 386.79 L237.15 386.79 L237.40 386.79 L237.65 386.79 L237.90 386.79 L238.15 386.79 L238.40 386.79 L238.65 386.79 L238.90 386.79 L239.15 386.80 L239.40 386.80 L239.65 386.80 L239.90 386.80 L240.15 386.80 L240.40 386.80 L240.65 386.80 L240.90 386.81 L241.15 386.81 L241.40 386.81 L241.65 386.81 L241.90 386.81 L242.15 386.82 L242.40 386.82 L242.65 386.82 L242.90 386.82 L243.15 386.83 L243.40 386.83 L243.65 386.83 L243.90 386.83 L244.15 386.84 L244.40 386.84 L244.65 386.84 L244.90 386.85 L245.15 386.85 L245.40 386.85 L245.65 386.85 L245.90 386.86 L246.15 386.86 L246.40 386.86 L246.65 386.87 L246.90 386.87 L247.15 386.87 L247.40 386.88 L247.65 386.88 L247.90 386.88 L248.15 386.89 L248.40 386.89 L248.65 386.89 L248.90 386.90 L249.15 386.90 L249.40 386.91 L249.65 386.91 L249.90 386.91 L250.15 386.92 L250.40 386.92 L250.65 386.92 L250.90 386.93 L251.15 386.93 L251.40 386.93 L251.65 386.94 L251.90 386.94 L252.15 386.94 L252.40 386.94 L252.65 386.95 L252.90 386.95 L253.15 386.95 L253.40 386.96 L253.65 386.96 L253.90 386.96 L254.15 386.97 L254.40 386.97 L254.65 386.97 L254.90 386.97 L255.15 386.98 L255.40 386.98 L255.65 386.98 L255.90 386.98 L256.15 386.98 L256.40 386.99 L256.65 386.99 L256.90 386.99 L257.15 386.99 L257.40 386.99 L257.65 386.99 L257.90 386.99 L258.15 387.00 L258.40 387.00 L258.65 387.00 L258.90 387.00 L259.15 387.00 L259.40 387.00 L259.65 387.00 L259.90 387.00 L260.15 387.00 L260.40 386.99 L260.65 386.98 L260.90 386.97 L261.15 386.95 L261.40 386.93 L261.65 386.91 L261.90 386.88 L262.15 386.85 L262.40 386.82 L262.65 386.79 L262.90 386.75 L263.15 386.71 L263.40 386.67 L263.65 386.63 L263.90 386.58 L264.15 386.54 L264.40 386.49 L264.65 386.45 L264.90 386.40 L265.15 386.35 L265.40 386.31 L265.65 386.26 L265.90 386.22 L266.15 386.17 L266.40 386.13 L266.65 386.09 L266.90 386.05 L267.15 386.01 L267.40 385.97 L267.65 385.94 L267.90 385.90 L268.15 385.87 L268.40 385.84 L268.65 385.80 L268.90 385.76 L269.15 385.71 L269.40 385.66 L269.65 385.60 L269.90 385.53 L270.15 385.45 L270.40 385.36 L270.65 385.26 L270.90 385.14 L271.15 385.00 L271.40 384.85 L271.65 384.67 L271.90 384.48 L272.15 384.26 L272.40 384.01 L272.65 383.74 L272.90 383.44 L273.15 383.10 L273.40 382.73 L273.65 382.32 L273.90 381.87 L274.15 381.37 L274.40 380.81 L274.65 380.20 L274.90 379.51 L275.15 378.74 L275.40 377.86 L275.65 376.87 L275.90 375.74 L276.15 374.44 L276.40 372.95 L276.65 371.22 L276.90 369.23 L277.15 366.94 L277.40 364.31 L277.65 361.29 L277.90 357.81 L278.15 353.80 L278.40 349.24 L278.65 344.13 L278.90 338.48 L279.15 332.34 L279.40 325.86 L279.65 319.22 L279.90 312.76 L280.15 306.91 L280.40 302.17 L280.65 299.07 L280.90 298.00 L281.15 299.10 L281.40 302.22 L281.65 306.99 L281.90 312.87 L282.15 319.35 L282.40 326.01 L282.65 332.52 L282.90 338.68 L283.15 344.36 L283.40 349.50 L283.65 354.08 L283.90 358.11 L284.15 361.62 L284.40 364.66 L284.65 367.32 L284.90 369.64 L285.15 371.65 L285.40 373.40 L285.65 374.92 L285.90 376.24 L286.15 377.40 L286.40 378.41 L286.65 379.31 L286.90 380.11 L287.15 380.82 L287.40 381.46 L287.65 382.04 L287.90 382.56 L288.15 383.04 L288.40 383.47 L288.65 383.86 L288.90 384.23 L289.15 384.56 L289.40 384.86 L289.65 385.14 L289.90 385.39 L290.15 385.63 L290.40 385.84 L290.65 386.04 L290.90 386.21 L291.15 386.37 L291.40 386.52 L291.65 386.65 L291.90 386.77 L292.15 386.87 L292.40 386.97 L292.65 387.05 L292.90 387.13 L293.15 387.20 L293.40 387.27 L293.65 387.34 L293.90 387.40 L294.15 387.46 L294.40 387.52 L294.65 387.57 L294.90 387.61 L295.15 387.65 L295.40 387.68 L295.65 387.70 L295.90 387.71 L296.15 387.71 L296.40 387.70 L296.65 387.68 L296.90 387.65 L297.15 387.61 L297.40 387.56 L297.65 387.48 L297.90 387.39 L298.15 387.27 L298.40 387.12 L298.65 386.94 L298.90 386.72 L299.15 386.48 L299.40 386.19 L299.65 385.84 L299.90 385.44 L300.15 384.99 L300.40 384.49 L300.65 383.94 L300.90 383.36 L301.15 382.78 L301.40 382.21 L301.65 381.68 L301.90 381.25 L302.15 380.95 L302.40 380.81 L302.65 380.85 L302.90 381.07 L303.15 381.46 L303.40 381.96 L303.65 382.54 L303.90 383.17 L304.15 383.81 L304.40 384.43 L304.65 385.01 L304.90 385.56 L305.15 386.05 L305.40 386.49 L305.65 386.87 L305.90 387.20 L306.15 387.49 L306.40 387.75 L306.65 387.98 L306.90 388.17 L307.15 388.34 L307.40 388.48 L307.65 388.60 L307.90 388.70 L308.15 388.79 L308.40 388.87 L308.65 388.93 L308.90 388.99 L309.15 389.04 L309.40 389.09 L309.65 389.12 L309.90 389.16 L310.15 389.18 L310.40 389.21 L310.65 389.23 L310.90 389.24 L311.15 389.26 L311.40 389.27 L311.65 389.28 L311.90 389.30 L312.15 389.31 L312.40 389.32 L312.65 389.33 L312.90 389.35 L313.15 389.36 L313.40 389.37 L313.65 389.38 L313.90 389.40 L314.15 389.41 L314.40 389.42 L314.65 389.43 L314.90 389.44 L315.15 389.45 L315.40 389.46 L315.65 389.47 L315.90 389.49 L316.15 389.50 L316.40 389.51 L316.65 389.52 L316.90 389.53 L317.15 389.54 L317.40 389.55 L317.65 389.56 L317.90 389.57 L318.15 389.58 L318.40 389.59 L318.65 389.60 L318.90 389.61 L319.15 389.62 L319.40 389.63 L319.65 389.63 L319.90 389.64 L320.15 389.65 L320.40 389.66 L320.65 389.67 L320.90 389.68 L321.15 389.69 L321.40 389.70 L321.65 389.71 L321.90 389.72 L322.15 389.73 L322.40 389.74 L322.65 389.75 L322.90 389.76 L323.15 389.76 L323.40 389.77 L323.65 389.78 L323.90 389.79 L324.15 389.80 L324.40 389.81 L324.65 389.82 L324.90 389.83 L325.15 389.84 L325.40 389.85 L325.65 389.86 L325.90 389.87 L326.15 389.88 L326.40 389.89 L326.65 389.90 L326.90 389.91 L327.15 389.92 L327.40 389.93 L327.65 389.94 L327.90 389.95 L328.15 389.96 L328.40 389.97 L328.65 389.98 L328.90 389.99 L329.15 390.00 L329.40 390.01 L329.65 390.02 L329.90 390.03 L330.15 390.05 L330.40 390.06 L330.65 390.07 L330.90 390.08 L331.15 390.09 L331.40 390.10 L331.65 390.12 L331.90 390.13 L332.15 390.14 L332.40 390.15 L332.65 390.17 L332.90 390.18 L333.15 390.19 L333.40 390.21 L333.65 390.22 L333.90 390.24 L334.15 390.25 L334.40 390.26 L334.65 390.28 L334.90 390.29 L335.15 390.31 L335.40 390.32 L335.65 390.34 L335.90 390.36 L336.15 390.37 L336.40 390.39 L336.65 390.40 L336.90 390.42 L337.15 390.44 L337.40 390.45 L337.65 390.47 L337.90 390.49 L338.15 390.51 L338.40 390.52 L338.65 390.54 L338.90 390.56 L339.15 390.58 L339.40 390.60 L339.65 390.61 L339.90 390.63 L340.15 390.65 L340.40 390.67 L340.65 390.69 L340.90 390.71 L341.15 390.73 L341.40 390.75 L341.65 390.77 L341.90 390.79 L342.15 390.81 L342.40 390.83 L342.65 390.85 L342.90 390.87 L343.15 390.89 L343.40 390.91 L343.65 390.93 L343.90 390.95 L344.15 390.98 L344.40 391.00 L344.65 391.02 L344.90 391.04 L345.15 391.06 L345.40 391.08 L345.65 391.11 L345.90 391.13 L346.15 391.15 L346.40 391.17 L346.65 391.20 L346.90 391.22 L347.15 391.24 L347.40 391.26 L347.65 391.29 L347.90 391.31 L348.15 391.33 L348.40 391.36 L348.65 391.38 L348.90 391.40 L349.15 391.43 L349.40 391.45 L349.65 391.47 L349.90 391.50 L350.15 391.52 L350.40 391.55 L350.65 391.57 L350.90 391.59 L351.15 391.62 L351.40 391.64 L351.65 391.67 L351.90 391.69 L352.15 391.72 L352.40 391.74 L352.65 391.77 L352.90 391.79 L353.15 391.82 L353.40 391.84" stroke="#9c3ef5"/>
<path d="M39.90 325.98 L40.15 325.96 L40.40 325.94 L40.65 325.93 L40.90 325.91 L41.15 325.89 L41.40 325.87 L41.65 325.85 L41.90 325.83 L42.15 325.81 L42.40 325.80 L42.65 325.77 L42.90 325.75 L43.15 325.73 L43.40 325.71 L43.65 325.69 L43.90 325.67 L44.15 325.65 L44.40 325.62 L44.65 325.60 L44.90 325.58 L45.15 325.55 L45.40 325.53 L45.65 325.50 L45.90 325.48 L46.15 325.45 L46.40 325.43 L46.65 325.40 L46.90 325.38 L47.15 325.35 L47.40 325.32 L47.65 325.30 L47.90 325.27 L48.15 325.24 L48.40 325.21 L48.65 325.19 L48.90 325.16 L49.15 325.13 L49.40 325.10 L49.65 325.07 L49.90 325.04 L50.15 325.01 L50.40 324.98 L50.65 324.95 L50.90 324.92 L51.15 324.89 L51.40 324.86 L51.65 324.83 L51.90 324.80 L52.15 324.77 L52.40 324.74 L52.65 324.71 L52.90 324.67 L53.15 324.64 L53.40 324.61 L53.65 324.58 L53.90 324.55 L54.15 324.51 L54.40 324.48 L54.65 324.45 L54.90 324.41 L55.15 324.38 L55.40 324.35 L55.65 324.31 L55.90 324.28 L56.15 324.24 L56.40 324.21 L56.65 324.17 L56.90 324.14 L57.15 324.10 L57.40 324.06 L57.65 324.03 L57.90 323.99 L58.15 323.95 L58.40 323.91 L58.65 323.87 L58.90 323.83 L59.15 323.80 L59.40 323.76 L59.65 323.71 L59.90 323.67 L60.15 323.63 L60.40 323.59 L60.65 323.55 L60.90 323.51 L61.15 323.46 L61.40 323.42 L61.65 323.37 L61.90 323.33 L62.15 323.29 L62.40 323.24 L62.65 323.19 L62.90 323.15 L63.15 323.10 L63.40 323.05 L63.65 323.00 L63.90 322.96 L64.15 322.91 L64.40 322.86 L64.65 322.81 L64.90 322.76 L65.15 322.71 L65.40 322.65 L65.65 322.60 L65.90 322.55 L66.15 322.50 L66.40 322.44 L66.65 322.39 L66.90 322.33 L67.15 322.28 L67.40 322.22 L67.65 322.16 L67.90 322.11 L68.15 322.05 L68.40 321.99 L68.65 321.93 L68.90 321.87 L69.15 321.81 L69.40 321.75 L69.65 321.69 L69.90 321.63 L70.15 321.56 L70.40 321.50 L70.65 321.43 L70.90 321.36 L71.15 321.30 L71.40 321.23 L71.65 321.15 L71.90 321.08 L72.15 321.01 L72.40 320.93 L72.65 320.85 L72.90 320.77 L73.15 320.69 L73.40 320.61 L73.65 320.53 L73.90 320.44 L74.15 320.35 L74.40 320.27 L74.65 320.18 L74.90 320.08 L75.15 319.99 L75.40 319.89 L75.65 319.80 L75.90 319.70 L76.15 319.60 L76.40 319.50 L76.65 319.39 L76.90 319.29 L77.15 319.18 L77.40 319.07 L77.65 318.96 L77.90 318.85 L78.15 318.73 L78.40 318.61 L78.65 318.49 L78.90 318.37 L79.15 318.24 L79.40 318.10 L79.65 317.96 L79.90 317.82 L80.15 317.66 L80.40 317.50 L80.65 317.34 L80.90 317.16 L81.15 316.97 L81.40 316.78 L81.65 316.57 L81.90 316.35 L82.15 316.11 L82.40 315.85 L82.65 315.57 L82.90 315.28 L83.15 314.96 L83.40 314.63 L83.65 314.28 L83.90 313.91 L84.15 313.52 L84.40 313.10 L84.65 312.65 L84.90 312.16 L85.15 311.63 L85.40 311.06 L85.65 310.44 L85.90 309.77 L86.15 309.05 L86.40 308.26 L86.65 307.38 L86.90 306.37 L87.15 305.25 L87.40 303.99 L87.65 302.60 L87.90 300.97 L88.15 298.95 L88.40 296.59 L88.65 293.93 L88.90 290.47 L89.15 286.98 L89.40 283.27 L89.65 278.39 L89.90 272.56 L90.15 265.58 L90.40 257.24 L90.65 247.35 L90.90 235.71 L91.15 221.61 L91.40 194.61 L91.65 165.95 L91.90 136.50 L92.15 110.33 L92.40 89.61 L92.65 63.06 L92.90 28.21 L93.15 -27.76 L93.40 -50.00 L93.65 -50.00 L93.90 -50.00 L94.15 -50.00 L94.40 -50.00 L94.65 -50.00 L94.90 -36.44 L95.15 115.00 L95.40 199.09 L95.65 222.05 L95.90 235.70 L96.15 247.29 L96.40 257.13 L96.65 265.41 L96.90 272.38 L97.15 278.23 L97.40 283.21 L97.65 287.39 L97.90 290.62 L98.15 293.32 L98.40 295.81 L98.65 298.04 L98.90 299.95 L99.15 301.51 L99.40 302.92 L99.65 304.20 L99.90 305.31 L100.15 306.24 L100.40 306.98 L100.65 307.64 L100.90 308.24 L101.15 308.78 L101.40 309.27 L101.65 309.70 L101.90 310.09 L102.15 310.42 L102.40 310.71 L102.65 310.98 L102.90 311.23 L103.15 311.46 L103.40 311.68 L103.65 311.87 L103.90 312.05 L104.15 312.22 L104.40 312.36 L104.65 312.49 L104.90 312.60 L105.15 312.70 L105.40 312.79 L105.65 312.87 L105.90 312.96 L106.15 313.03 L106.40 313.10 L106.65 313.16 L106.90 313.22 L107.15 313.27 L107.40 313.32 L107.65 313.36 L107.90 313.40 L108.15 313.43 L108.40 313.47 L108.65 313.50 L108.90 313.53 L109.15 313.56 L109.40 313.58 L109.65 313.59 L109.90 313.60 L110.15 313.60 L110.40 313.60 L110.65 313.59 L110.90 313.58 L111.15 313.57 L111.40 313.55 L111.65 313.54 L111.90 313.52 L112.15 313.50 L112.40 313.47 L112.65 313.44 L112.90 313.42 L113.15 313.39 L113.40 313.36 L113.65 313.32 L113.90 313.29 L114.15 313.25 L114.40 313.21 L114.65 313.18 L114.90 313.14 L115.15 313.10 L115.40 313.06 L115.65 313.01 L115.90 312.97 L116.15 312.93 L116.40 312.89 L116.65 312.84 L116.90 312.80 L117.15 312.76 L117.40 312.71 L117.65 312.67 L117.90 312.63 L118.15 312.58 L118.40 312.54 L118.65 312.50 L118.90 312.46 L119.15 312.42 L119.40 312.39 L119.65 312.35 L119.90 312.31 L120.15 312.28 L120.40 312.25 L120.65 312.21 L120.90 312.18 L121.15 312.14 L121.40 312.11 L121.65 312.08 L121.90 312.04 L122.15 312.01 L122.40 311.97 L122.65 311.94 L122.90 311.90 L123.15 311.87 L123.40 311.83 L123.65 311.80 L123.90 311.76 L124.15 311.73 L124.40 311.69 L124.65 311.66 L124.90 311.62 L125.15 311.58 L125.40 311.55 L125.65 311.51 L125.90 311.47 L126.15 311.43 L126.40 311.39 L126.65 311.36 L126.90 311.32 L127.15 311.28 L127.40 311.24 L127.65 311.20 L127.90 311.16 L128.15 311.12 L128.40 311.09 L128.65 311.05 L128.90 311.01 L129.15 310.97 L129.40 310.93 L129.65 310.89 L129.90 310.85 L130.15 310.81 L130.40 310.76 L130.65 310.71 L130.90 310.66 L131.15 310.61 L131.40 310.55 L131.65 310.49 L131.90 310.43 L132.15 310.36 L132.40 310.28 L132.65 310.20 L132.90 310.10 L133.15 310.00 L133.40 309.89 L133.65 309.77 L133.90 309.65 L134.15 309.52 L134.40 309.38 L134.65 309.23 L134.90 309.08 L135.15 308.93 L135.40 308.77 L135.65 308.60 L135.90 308.41 L136.15 308.21 L136.40 308.00 L136.65 307.76 L136.90 307.52 L137.15 307.26 L137.40 306.98 L137.65 306.69 L137.90 306.39 L138.15 306.07 L138.40 305.74 L138.65 305.39 L138.90 305.02 L139.15 304.62 L139.40 304.18 L139.65 303.72 L139.90 303.21 L140.15 302.66 L140.40 302.07 L140.65 301.43 L140.90 300.73 L141.15 299.92 L141.40 299.00 L141.65 297.98 L141.90 296.86 L142.15 295.63 L142.40 294.30 L142.65 292.74 L142.90 290.87 L143.15 288.76 L143.40 286.50 L143.65 284.15 L143.90 281.43 L144.15 277.91 L144.40 273.15 L144.65 267.18 L144.90 260.11 L145.15 252.08 L145.40 243.21 L145.65 233.63 L145.90 223.46 L146.15 212.76 L146.40 199.07 L146.65 182.61 L146.90 165.22 L147.15 148.74 L147.40 135.00 L147.65 123.85 L147.90 113.86 L148.15 104.91 L148.40 96.68 L148.65 87.80 L148.90 80.11 L149.15 76.13 L149.40 80.11 L149.65 95.67 L149.90 143.46 L150.15 180.63 L150.40 207.59 L150.65 224.10 L150.90 237.45 L151.15 248.71 L151.40 258.15 L151.65 266.02 L151.90 272.56 L152.15 278.01 L152.40 282.22 L152.65 285.36 L152.90 287.90 L153.15 290.05 L153.40 291.91 L153.65 293.60 L153.90 295.18 L154.15 296.62 L154.40 297.88 L154.65 298.92 L154.90 299.77 L155.15 300.53 L155.40 301.23 L155.65 301.85 L155.90 302.41 L156.15 302.91 L156.40 303.34 L156.65 303.73 L156.90 304.08 L157.15 304.42 L157.40 304.73 L157.65 305.02 L157.90 305.28 L158.15 305.52 L158.40 305.74 L158.65 305.93 L158.90 306.10 L159.15 306.25 L159.40 306.40 L159.65 306.54 L159.90 306.67 L160.15 306.80 L160.40 306.91 L160.65 307.02 L160.90 307.12 L161.15 307.20 L161.40 307.28 L161.65 307.35 L161.90 307.40 L162.15 307.45 L162.40 307.49 L162.65 307.54 L162.90 307.58 L163.15 307.62 L163.40 307.66 L163.65 307.69 L163.90 307.72 L164.15 307.75 L164.40 307.77 L164.65 307.78 L164.90 307.80 L165.15 307.80 L165.40 307.80 L165.65 307.79 L165.90 307.77 L166.15 307.75 L166.40 307.72 L166.65 307.69 L166.90 307.65 L167.15 307.61 L167.40 307.57 L167.65 307.52 L167.90 307.47 L168.15 307.42 L168.40 307.37 L168.65 307.32 L168.90 307.27 L169.15 307.22 L169.40 307.17 L169.65 307.12 L169.90 307.08 L170.15 307.03 L170.40 306.98 L170.65 306.93 L170.90 306.87 L171.15 306.80 L171.40 306.72 L171.65 306.64 L171.90 306.54 L172.15 306.43 L172.40 306.31 L172.65 306.18 L172.90 306.02 L173.15 305.84 L173.40 305.64 L173.65 305.42 L173.90 305.16 L174.15 304.88 L174.40 304.56 L174.65 304.20 L174.90 303.79 L175.15 303.33 L175.40 302.80 L175.65 302.20 L175.90 301.51 L176.15 300.72 L176.40 299.79 L176.65 298.73 L176.90 297.50 L177.15 296.09 L177.40 294.49 L177.65 292.67 L177.90 290.56 L178.15 288.12 L178.40 285.36 L178.65 282.26 L178.90 278.84 L179.15 275.12 L179.40 271.19 L179.65 267.15 L179.90 263.18 L180.15 259.50 L180.40 256.40 L180.65 254.18 L180.90 253.08 L181.15 253.26 L181.40 254.70 L181.65 257.22 L181.90 260.56 L182.15 264.42 L182.40 268.51 L182.65 272.62 L182.90 276.58 L183.15 280.28 L183.40 283.65 L183.65 286.67 L183.90 289.32 L184.15 291.59 L184.40 293.50 L184.65 295.05 L184.90 296.30 L185.15 297.22 L185.40 297.79 L185.65 298.02 L185.90 297.89 L186.15 297.40 L186.40 296.57 L186.65 295.46 L186.90 294.18 L187.15 292.88 L187.40 291.78 L187.65 291.11 L187.90 291.06 L188.15 291.65 L188.40 292.75 L188.65 294.14 L188.90 295.61 L189.15 297.01 L189.40 298.27 L189.65 299.34 L189.90 300.21 L190.15 300.90 L190.40 301.47 L190.65 301.96 L190.90 302.36 L191.15 302.70 L191.40 302.99 L191.65 303.25 L191.90 303.48 L192.15 303.70 L192.40 303.91 L192.65 304.12 L192.90 304.33 L193.15 304.53 L193.40 304.73 L193.65 304.92 L193.90 305.13 L194.15 305.34 L194.40 305.54 L194.65 305.74 L194.90 305.94 L195.15 306.13 L195.40 306.31 L195.65 306.47 L195.90 306.62 L196.15 306.75 L196.40 306.85 L196.65 306.93 L196.90 306.99 L197.15 307.02 L197.40 307.04 L197.65 307.07 L197.90 307.09 L198.15 307.12 L198.40 307.14 L198.65 307.16 L198.90 307.18 L199.15 307.20 L199.40 307.22 L199.65 307.24 L199.90 307.26 L200.15 307.28 L200.40 307.29 L200.65 307.31 L200.90 307.32 L201.15 307.34 L201.40 307.35 L201.65 307.37 L201.90 307.38 L202.15 307.39 L202.40 307.41 L202.65 307.42 L202.90 307.43 L203.15 307.44 L203.40 307.45 L203.65 307.46 L203.90 307.47 L204.15 307.48 L204.40 307.49 L204.65 307.50 L204.90 307.51 L205.15 307.52 L205.40 307.53 L205.65 307.53 L205.90 307.54 L206.15 307.55 L206.40 307.56 L206.65 307.56 L206.90 307.57 L207.15 307.58 L207.40 307.58 L207.65 307.59 L207.90 307.60 L208.15 307.60 L208.40 307.61 L208.65 307.62 L208.90 307.62 L209.15 307.63 L209.40 307.63 L209.65 307.63 L209.90 307.63 L210.15 307.62 L210.40 307.61 L210.65 307.59 L210.90 307.57 L211.15 307.55 L211.40 307.51 L211.65 307.47 L211.90 307.41 L212.15 307.34 L212.40 307.26 L212.65 307.15 L212.90 307.02 L213.15 306.87 L213.40 306.69 L213.65 306.48 L213.90 306.22 L214.15 305.93 L214.40 305.59 L214.65 305.21 L214.90 304.81 L215.15 304.40 L215.40 304.01 L215.65 303.65 L215.90 303.38 L216.15 303.23 L216.40 303.21 L216.65 303.33 L216.90 303.57 L217.15 303.89 L217.40 304.25 L217.65 304.63 L217.90 304.98 L218.15 305.30 L218.40 305.57 L218.65 305.78 L218.90 305.92 L219.15 305.99 L219.40 305.99 L219.65 305.90 L219.90 305.69 L220.15 305.33 L220.40 304.75 L220.65 303.92 L220.90 302.75 L221.15 301.20 L221.40 299.28 L221.65 297.09 L221.90 294.92 L222.15 293.23 L222.40 292.60 L222.65 293.31 L222.90 295.09 L223.15 297.35 L223.40 299.62 L223.65 301.64 L223.90 303.29 L224.15 304.56 L224.40 305.51 L224.65 306.22 L224.90 306.73 L225.15 307.10 L225.40 307.37 L225.65 307.58 L225.90 307.74 L226.15 307.87 L226.40 307.98 L226.65 308.06 L226.90 308.13 L227.15 308.19 L227.40 308.23 L227.65 308.27 L227.90 308.29 L228.15 308.31 L228.40 308.32 L228.65 308.33 L228.90 308.33 L229.15 308.32 L229.40 308.32 L229.65 308.32 L229.90 308.32 L230.15 308.31 L230.40 308.31 L230.65 308.31 L230.90 308.30 L231.15 308.30 L231.40 308.30 L231.65 308.29 L231.90 308.29 L232.15 308.28 L232.40 308.28 L232.65 308.28 L232.90 308.27 L233.15 308.27 L233.40 308.27 L233.65 308.26 L233.90 308.26 L234.15 308.25 L234.40 308.25 L234.65 308.25 L234.90 308.24 L235.15 308.24 L235.40 308.24 L235.65 308.23 L235.90 308.23 L236.15 308.23 L236.40 308.22 L236.65 308.22 L236.90 308.22 L237.15 308.22 L237.40 308.21 L237.65 308.21 L237.90 308.21 L238.15 308.21 L238.40 308.21 L238.65 308.20 L238.90 308.20 L239.15 308.20 L239.40 308.20 L239.65 308.20 L239.90 308.20 L240.15 308.20 L240.40 308.20 L240.65 308.20 L240.90 308.20 L241.15 308.20 L241.40 308.20 L241.65 308.20 L241.90 308.20 L242.15 308.20 L242.40 308.20 L242.65 308.20 L242.90 308.20 L243.15 308.20 L243.40 308.20 L243.65 308.20 L243.90 308.20 L244.15 308.20 L244.40 308.20 L244.65 308.20 L244.90 308.20 L245.15 308.20 L245.40 308.20 L245.65 308.20 L245.90 308.20 L246.15 308.20 L246.40 308.20 L246.65 308.20 L246.90 308.20 L247.15 308.20 L247.40 308.20 L247.65 308.20 L247.90 308.20 L248.15 308.20 L248.40 308.20 L248.65 308.20 L248.90 308.20 L249.15 308.20 L249.40 308.20 L249.65 308.20 L249.90 308.20 L250.15 308.20 L250.40 308.20 L250.65 308.20 L250.90 308.20 L251.15 308.20 L251.40 308.20 L251.65 308.20 L251.90 308.20 L252.15 308.20 L252.40 308.20 L252.65 308.20 L252.90 308.20 L253.15 308.20 L253.40 308.20 L253.65 308.20 L253.90 308.20 L254.15 308.20 L254.40 308.20 L254.65 308.20 L254.90 308.20 L255.15 308.20 L255.40 308.20 L255.65 308.20 L255.90 308.20 L256.15 308.20 L256.40 308.20 L256.65 308.20 L256.90 308.20 L257.15 308.20 L257.40 308.20 L257.65 308.20 L257.90 308.20 L258.15 308.20 L258.40 308.20 L258.65 308.20 L258.90 308.20 L259.15 308.20 L259.40 308.20 L259.65 308.20 L259.90 308.20 L260.15 308.20 L260.40 308.20 L260.65 308.20 L260.90 308.20 L261.15 308.20 L261.40 308.20 L261.65 308.20 L261.90 308.20 L262.15 308.20 L262.40 308.20 L262.65 308.19 L262.90 308.18 L263.15 308.17 L263.40 308.16 L263.65 308.14 L263.90 308.12 L264.15 308.10 L264.40 308.08 L264.65 308.05 L264.90 308.03 L265.15 308.00 L265.40 307.97 L265.65 307.95 L265.90 307.92 L266.15 307.89 L266.40 307.86 L266.65 307.82 L266.90 307.79 L267.15 307.76 L267.40 307.73 L267.65 307.70 L267.90 307.67 L268.15 307.64 L268.40 307.61 L268.65 307.58 L268.90 307.55 L269.15 307.52 L269.40 307.49 L269.65 307.45 L269.90 307.41 L270.15 307.36 L270.40 307.31 L270.65 307.25 L270.90 307.19 L271.15 307.11 L271.40 307.03 L271.65 306.94 L271.90 306.84 L272.15 306.73 L272.40 306.61 L272.65 306.48 L272.90 306.33 L273.15 306.16 L273.40 305.98 L273.65 305.78 L273.90 305.57 L274.15 305.32 L274.40 305.06 L274.65 304.77 L274.90 304.45 L275.15 304.10 L275.40 303.71 L275.65 303.28 L275.90 302.81 L276.15 302.28 L276.40 301.70 L276.65 301.05 L276.90 300.31 L277.15 299.48 L277.40 298.53 L277.65 297.45 L277.90 296.21 L278.15 294.79 L278.40 293.16 L278.65 291.30 L278.90 289.18 L279.15 286.77 L279.40 284.01 L279.65 280.85 L279.90 277.27 L280.15 273.25 L280.40 268.80 L280.65 263.94 L280.90 258.72 L281.15 253.27 L281.40 247.75 L281.65 242.40 L281.90 237.55 L282.15 233.58 L282.40 230.87 L282.65 229.73 L282.90 230.28 L283.15 232.47 L283.40 236.06 L283.65 240.68 L283.90 245.94 L284.15 251.51 L284.40 257.09 L284.65 262.49 L284.90 267.58 L285.15 272.27 L285.40 276.54 L285.65 280.36 L285.90 283.76 L286.15 286.74 L286.40 289.35 L286.65 291.64 L286.90 293.67 L287.15 295.44 L287.40 297.00 L287.65 298.36 L287.90 299.55 L288.15 300.60 L288.40 301.52 L288.65 302.34 L288.90 303.06 L289.15 303.71 L289.40 304.29 L289.65 304.81 L289.90 305.27 L290.15 305.69 L290.40 306.06 L290.65 306.39 L290.90 306.69 L291.15 306.96 L291.40 307.20 L291.65 307.41 L291.90 307.61 L292.15 307.78 L292.40 307.93 L292.65 308.06 L292.90 308.19 L293.15 308.30 L293.40 308.39 L293.65 308.48 L293.90 308.57 L294.15 308.65 L294.40 308.72 L294.65 308.80 L294.90 308.87 L295.15 308.94 L295.40 309.01 L295.65 309.07 L295.90 309.13 L296.15 309.18 L296.40 309.23 L296.65 309.27 L296.90 309.31 L297.15 309.34 L297.40 309.37 L297.65 309.39 L297.90 309.40 L298.15 309.40 L298.40 309.39 L298.65 309.37 L298.90 309.36 L299.15 309.33 L299.40 309.30 L299.65 309.26 L299.90 309.21 L300.15 309.16 L300.40 309.09 L300.65 309.01 L300.90 308.91 L301.15 308.79 L301.40 308.65 L301.65 308.48 L301.90 308.29 L302.15 308.07 L302.40 307.82 L302.65 307.53 L302.90 307.19 L303.15 306.81 L303.40 306.39 L303.65 305.93 L303.90 305.46 L304.15 304.97 L304.40 304.50 L304.65 304.06 L304.90 303.70 L305.15 303.44 L305.40 303.31 L305.65 303.33 L305.90 303.49 L306.15 303.77 L306.40 304.16 L306.65 304.60 L306.90 305.08 L307.15 305.57 L307.40 306.05 L307.65 306.50 L307.90 306.91 L308.15 307.29 L308.40 307.62 L308.65 307.91 L308.90 308.16 L309.15 308.37 L309.40 308.57 L309.65 308.73 L309.90 308.88 L310.15 308.99 L310.40 309.10 L310.65 309.18 L310.90 309.25 L311.15 309.31 L311.40 309.36 L311.65 309.41 L311.90 309.45 L312.15 309.48 L312.40 309.51 L312.65 309.53 L312.90 309.55 L313.15 309.57 L313.40 309.58 L313.65 309.59 L313.90 309.60 L314.15 309.61 L314.40 309.62 L314.65 309.63 L314.90 309.64 L315.15 309.65 L315.40 309.66 L315.65 309.67 L315.90 309.68 L316.15 309.70 L316.40 309.71 L316.65 309.72 L316.90 309.73 L317.15 309.75 L317.40 309.76 L317.65 309.78 L317.90 309.79 L318.15 309.81 L318.40 309.82 L318.65 309.84 L318.90 309.85 L319.15 309.87 L319.40 309.89 L319.65 309.90 L319.90 309.92 L320.15 309.94 L320.40 309.96 L320.65 309.97 L320.90 309.99 L321.15 310.01 L321.40 310.03 L321.65 310.05 L321.90 310.07 L322.15 310.09 L322.40 310.11 L322.65 310.13 L322.90 310.15 L323.15 310.17 L323.40 310.19 L323.65 310.21 L323.90 310.23 L324.15 310.25 L324.40 310.27 L324.65 310.29 L324.90 310.31 L325.15 310.33 L325.40 310.36 L325.65 310.38 L325.90 310.40 L326.15 310.42 L326.40 310.44 L326.65 310.47 L326.90 310.49 L327.15 310.51 L327.40 310.53 L327.65 310.56 L327.90 310.58 L328.15 310.60 L328.40 310.62 L328.65 310.65 L328.90 310.67 L329.15 310.69 L329.40 310.71 L329.65 310.74 L329.90 310.76 L330.15 310.78 L330.40 310.80 L330.65 310.83 L330.90 310.85 L331.15 310.87 L331.40 310.89 L331.65 310.91 L331.90 310.94 L332.15 310.96 L332.40 310.98 L332.65 311.00 L332.90 311.02 L333.15 311.04 L333.40 311.07 L333.65 311.09 L333.90 311.11 L334.15 311.13 L334.40 311.15 L334.65 311.17 L334.90 311.19 L335.15 311.21 L335.40 311.23 L335.65 311.25 L335.90 311.27 L336.15 311.29 L336.40 311.32 L336.65 311.34 L336.90 311.36 L337.15 311.38 L337.40 311.40 L337.65 311.42 L337.90 311.44 L338.15 311.46 L338.40 311.49 L338.65 311.51 L338.90 311.53 L339.15 311.55 L339.40 311.57 L339.65 311.60 L339.90 311.62 L340.15 311.64 L340.40 311.66 L340.65 311.69 L340.90 311.71 L341.15 311.73 L341.40 311.75 L341.65 311.78 L341.90 311.80 L342.15 311.82 L342.40 311.85 L342.65 311.87 L342.90 311.89 L343.15 311.92 L343.40 311.94 L343.65 311.96 L343.90 311.99 L344.15 312.01 L344.40 312.03 L344.65 312.06 L344.90 312.08 L345.15 312.10 L345.40 312.13 L345.65 312.15 L345.90 312.18 L346.15 312.20 L346.40 312.23 L346.65 312.25 L346.90 312.28 L347.15 312.30 L347.40 312.32 L347.65 312.35 L347.90 312.37 L348.15 312.40 L348.40 312.42 L348.65 312.45 L348.90 312.47 L349.15 312.50 L349.40 312.52 L349.65 312.55 L349.90 312.58 L350.15 312.60 L350.40 312.63 L350.65 312.65 L350.90 312.68 L351.15 312.70 L351.40 312.73 L351.65 312.75 L351.90 312.78 L352.15 312.81 L352.40 312.83 L352.65 312.86 L352.90 312.88 L353.15 312.91 L353.40 312.94" stroke="#fc8f2c"/>
<path d="M39.90 244.86 L40.15 244.84 L40.40 244.81 L40.65 244.79 L40.90 244.76 L41.15 244.74 L41.40 244.71 L41.65 244.68 L41.90 244.66 L42.15 244.63 L42.40 244.60 L42.65 244.58 L42.90 244.55 L43.15 244.52 L43.40 244.49 L43.65 244.47 L43.90 244.44 L44.15 244.41 L44.40 244.38 L44.65 244.35 L44.90 244.32 L45.15 244.29 L45.40 244.26 L45.65 244.23 L45.90 244.21 L46.15 244.18 L46.40 244.15 L46.65 244.11 L46.90 244.08 L47.15 244.05 L47.40 244.02 L47.65 243.99 L47.90 243.96 L48.15 243.93 L48.40 243.90 L48.65 243.86 L48.90 243.83 L49.15 243.80 L49.40 243.77 L49.65 243.74 L49.90 243.70 L50.15 243.67 L50.40 243.64 L50.65 243.60 L50.90 243.57 L51.15 243.54 L51.40 243.50 L51.65 243.47 L51.90 243.43 L52.15 243.40 L52.40 243.37 L52.65 243.33 L52.90 243.30 L53.15 243.26 L53.40 243.23 L53.65 243.19 L53.90 243.16 L54.15 243.12 L54.40 243.09 L54.65 243.05 L54.90 243.01 L55.15 242.98 L55.40 242.94 L55.65 242.91 L55.90 242.87 L56.15 242.83 L56.40 242.80 L56.65 242.76 L56.90 242.72 L57.15 242.69 L57.40 242.65 L57.65 242.61 L57.90 242.58 L58.15 242.54 L58.40 242.50 L58.65 242.46 L58.90 242.43 L59.15 242.39 L59.40 242.35 L59.65 242.31 L59.90 242.27 L60.15 242.23 L60.40 242.20 L60.65 242.16 L60.90 242.12 L61.15 242.08 L61.40 242.04 L61.65 242.00 L61.90 241.95 L62.15 241.91 L62.40 241.87 L62.65 241.83 L62.90 241.79 L63.15 241.75 L63.40 241.70 L63.65 241.66 L63.90 241.62 L64.15 241.57 L64.40 241.53 L64.65 241.48 L64.90 241.44 L65.15 241.39 L65.40 241.34 L65.65 241.30 L65.90 241.25 L66.15 241.20 L66.40 241.15 L66.65 241.11 L66.90 241.06 L67.15 241.01 L67.40 240.96 L67.65 240.91 L67.90 240.85 L68.15 240.80 L68.40 240.75 L68.65 240.70 L68.90 240.64 L69.15 240.59 L69.40 240.53 L69.65 240.48 L69.90 240.42 L70.15 240.37 L70.40 240.31 L70.65 240.25 L70.90 240.19 L71.15 240.14 L71.40 240.08 L71.65 240.02 L71.90 239.96 L72.15 239.90 L72.40 239.84 L72.65 239.78 L72.90 239.72 L73.15 239.65 L73.40 239.59 L73.65 239.53 L73.90 239.46 L74.15 239.39 L74.40 239.32 L74.65 239.25 L74.90 239.18 L75.15 239.11 L75.40 239.03 L75.65 238.96 L75.90 238.88 L76.15 238.80 L76.40 238.72 L76.65 238.64 L76.90 238.55 L77.15 238.46 L77.40 238.37 L77.65 238.28 L77.90 238.19 L78.15 238.09 L78.40 237.99 L78.65 237.89 L78.90 237.79 L79.15 237.68 L79.40 237.57 L79.65 237.46 L79.90 237.35 L80.15 237.23 L80.40 237.10 L80.65 236.96 L80.90 236.81 L81.15 236.65 L81.40 236.48 L81.65 236.29 L81.90 236.11 L82.15 235.91 L82.40 235.70 L82.65 235.49 L82.90 235.26 L83.15 235.03 L83.40 234.80 L83.65 234.55 L83.90 234.29 L84.15 234.01 L84.40 233.71 L84.65 233.39 L84.90 233.05 L85.15 232.70 L85.40 232.33 L85.65 231.94 L85.90 231.54 L86.15 231.11 L86.40 230.67 L86.65 230.21 L86.90 229.71 L87.15 229.18 L87.40 228.61 L87.65 227.98 L87.90 227.30 L88.15 226.56 L88.40 225.72 L88.65 224.74 L88.90 223.61 L89.15 222.34 L89.40 220.91 L89.65 219.29 L89.90 217.26 L90.15 214.83 L90.40 211.90 L90.65 208.16 L90.90 203.00 L91.15 197.92 L91.40 192.95 L91.65 187.20 L91.90 179.46 L92.15 167.55 L92.40 154.22 L92.65 143.10 L92.90 135.06 L93.15 127.85 L93.40 119.29 L93.65 106.13 L93.90 86.36 L94.15 67.81 L94.40 56.03 L94.65 47.66 L94.90 40.60 L95.15 32.89 L95.40 22.52 L95.65 6.31 L95.90 -38.21 L96.15 -50.00 L96.40 -10.15 L96.65 38.21 L96.90 84.01 L97.15 118.47 L97.40 130.54 L97.65 138.89 L97.90 150.20 L98.15 165.17 L98.40 178.95 L98.65 187.85 L98.90 194.64 L99.15 200.15 L99.40 204.75 L99.65 208.59 L99.90 211.70 L100.15 214.30 L100.40 216.58 L100.65 218.51 L100.90 220.10 L101.15 221.52 L101.40 222.80 L101.65 223.93 L101.90 224.88 L102.15 225.64 L102.40 226.30 L102.65 226.90 L102.90 227.44 L103.15 227.93 L103.40 228.35 L103.65 228.70 L103.90 229.00 L104.15 229.25 L104.40 229.49 L104.65 229.71 L104.90 229.91 L105.15 230.09 L105.40 230.26 L105.65 230.41 L105.90 230.54 L106.15 230.66 L106.40 230.76 L106.65 230.85 L106.90 230.94 L107.15 231.02 L107.40 231.09 L107.65 231.17 L107.90 231.23 L108.15 231.29 L108.40 231.35 L108.65 231.40 L108.90 231.44 L109.15 231.47 L109.40 231.49 L109.65 231.51 L109.90 231.53 L110.15 231.54 L110.40 231.55 L110.65 231.57 L110.90 231.58 L111.15 231.59 L111.40 231.59 L111.65 231.60 L111.90 231.60 L112.15 231.60 L112.40 231.60 L112.65 231.59 L112.90 231.58 L113.15 231.57 L113.40 231.55 L113.65 231.54 L113.90 231.52 L114.15 231.50 L114.40 231.47 L114.65 231.45 L114.90 231.42 L115.15 231.39 L115.40 231.36 L115.65 231.33 L115.90 231.30 L116.15 231.27 L116.40 231.23 L116.65 231.20 L116.90 231.16 L117.15 231.12 L117.40 231.09 L117.65 231.05 L117.90 231.01 L118.15 230.97 L118.40 230.93 L118.65 230.90 L118.90 230.86 L119.15 230.82 L119.40 230.78 L119.65 230.75 L119.90 230.71 L120.15 230.68 L120.40 230.64 L120.65 230.61 L120.90 230.57 L121.15 230.54 L121.40 230.50 L121.65 230.46 L121.90 230.43 L122.15 230.39 L122.40 230.35 L122.65 230.31 L122.90 230.27 L123.15 230.23 L123.40 230.19 L123.65 230.15 L123.90 230.10 L124.15 230.06 L124.40 230.02 L124.65 229.97 L124.90 229.93 L125.15 229.88 L125.40 229.83 L125.65 229.79 L125.90 229.74 L126.15 229.69 L126.40 229.64 L126.65 229.59 L126.90 229.54 L127.15 229.48 L127.40 229.43 L127.65 229.38 L127.90 229.32 L128.15 229.27 L128.40 229.21 L128.65 229.15 L128.90 229.09 L129.15 229.03 L129.40 228.97 L129.65 228.91 L129.90 228.84 L130.15 228.78 L130.40 228.71 L130.65 228.64 L130.90 228.57 L131.15 228.50 L131.40 228.42 L131.65 228.35 L131.90 228.27 L132.15 228.18 L132.40 228.10 L132.65 228.01 L132.90 227.92 L133.15 227.83 L133.40 227.74 L133.65 227.64 L133.90 227.54 L134.15 227.44 L134.40 227.33 L134.65 227.21 L134.90 227.09 L135.15 226.96 L135.40 226.82 L135.65 226.68 L135.90 226.53 L136.15 226.37 L136.40 226.21 L136.65 226.04 L136.90 225.86 L137.15 225.67 L137.40 225.48 L137.65 225.28 L137.90 225.06 L138.15 224.82 L138.40 224.57 L138.65 224.31 L138.90 224.03 L139.15 223.73 L139.40 223.42 L139.65 223.10 L139.90 222.76 L140.15 222.41 L140.40 222.05 L140.65 221.67 L140.90 221.29 L141.15 220.88 L141.40 220.45 L141.65 219.99 L141.90 219.48 L142.15 218.93 L142.40 218.32 L142.65 217.64 L142.90 216.87 L143.15 215.94 L143.40 214.85 L143.65 213.58 L143.90 212.13 L144.15 210.41 L144.40 208.12 L144.65 205.43 L144.90 202.51 L145.15 199.14 L145.40 194.84 L145.65 189.49 L145.90 183.23 L146.15 176.22 L146.40 168.60 L146.65 160.52 L146.90 152.12 L147.15 143.57 L147.40 135.00 L147.65 126.79 L147.90 118.22 L148.15 107.78 L148.40 92.32 L148.65 68.19 L148.90 54.79 L149.15 43.29 L149.40 34.29 L149.65 28.95 L149.90 29.10 L150.15 39.18 L150.40 54.16 L150.65 67.19 L150.90 77.08 L151.15 87.14 L151.40 100.00 L151.65 123.12 L151.90 139.88 L152.15 150.96 L152.40 160.56 L152.65 168.87 L152.90 176.04 L153.15 182.24 L153.40 187.63 L153.65 192.39 L153.90 196.60 L154.15 199.94 L154.40 202.80 L154.65 205.57 L154.90 208.13 L155.15 210.25 L155.40 211.90 L155.65 213.36 L155.90 214.65 L156.15 215.78 L156.40 216.75 L156.65 217.59 L156.90 218.36 L157.15 219.08 L157.40 219.73 L157.65 220.31 L157.90 220.82 L158.15 221.27 L158.40 221.64 L158.65 221.99 L158.90 222.31 L159.15 222.61 L159.40 222.89 L159.65 223.15 L159.90 223.38 L160.15 223.59 L160.40 223.78 L160.65 223.95 L160.90 224.10 L161.15 224.23 L161.40 224.36 L161.65 224.48 L161.90 224.60 L162.15 224.71 L162.40 224.81 L162.65 224.90 L162.90 224.98 L163.15 225.06 L163.40 225.12 L163.65 225.16 L163.90 225.20 L164.15 225.23 L164.40 225.26 L164.65 225.28 L164.90 225.30 L165.15 225.33 L165.40 225.35 L165.65 225.36 L165.90 225.38 L166.15 225.39 L166.40 225.40 L166.65 225.40 L166.90 225.40 L167.15 225.39 L167.40 225.39 L167.65 225.37 L167.90 225.35 L168.15 225.33 L168.40 225.29 L168.65 225.25 L168.90 225.21 L169.15 225.15 L169.40 225.09 L169.65 225.02 L169.90 224.94 L170.15 224.86 L170.40 224.76 L170.65 224.66 L170.90 224.55 L171.15 224.43 L171.40 224.30 L171.65 224.16 L171.90 224.01 L172.15 223.85 L172.40 223.68 L172.65 223.50 L172.90 223.31 L173.15 223.11 L173.40 222.89 L173.65 222.66 L173.90 222.42 L174.15 222.16 L174.40 221.88 L174.65 221.58 L174.90 221.26 L175.15 220.92 L175.40 220.54 L175.65 220.13 L175.90 219.69 L176.15 219.20 L176.40 218.66 L176.65 218.06 L176.90 217.41 L177.15 216.68 L177.40 215.89 L177.65 215.02 L177.90 214.08 L178.15 213.03 L178.40 211.88 L178.65 210.62 L178.90 209.24 L179.15 207.75 L179.40 206.16 L179.65 204.46 L179.90 202.68 L180.15 200.83 L180.40 198.95 L180.65 197.06 L180.90 195.21 L181.15 193.46 L181.40 191.88 L181.65 190.53 L181.90 189.48 L182.15 188.79 L182.40 188.50 L182.65 188.63 L182.90 189.16 L183.15 190.04 L183.40 191.24 L183.65 192.66 L183.90 194.25 L184.15 195.94 L184.40 197.65 L184.65 199.36 L184.90 201.01 L185.15 202.58 L185.40 204.04 L185.65 205.39 L185.90 206.59 L186.15 207.64 L186.40 208.53 L186.65 209.23 L186.90 209.74 L187.15 210.07 L187.40 210.21 L187.65 210.13 L187.90 209.85 L188.15 209.39 L188.40 208.81 L188.65 208.20 L188.90 207.68 L189.15 207.43 L189.40 207.60 L189.65 208.27 L189.90 209.37 L190.15 210.75 L190.40 212.24 L190.65 213.71 L190.90 215.09 L191.15 216.32 L191.40 217.37 L191.65 218.26 L191.90 219.02 L192.15 219.67 L192.40 220.20 L192.65 220.66 L192.90 221.05 L193.15 221.40 L193.40 221.71 L193.65 221.98 L193.90 222.23 L194.15 222.45 L194.40 222.65 L194.65 222.82 L194.90 222.98 L195.15 223.12 L195.40 223.24 L195.65 223.36 L195.90 223.46 L196.15 223.55 L196.40 223.64 L196.65 223.73 L196.90 223.81 L197.15 223.89 L197.40 223.97 L197.65 224.04 L197.90 224.11 L198.15 224.18 L198.40 224.23 L198.65 224.29 L198.90 224.33 L199.15 224.36 L199.40 224.39 L199.65 224.40 L199.90 224.41 L200.15 224.42 L200.40 224.43 L200.65 224.44 L200.90 224.45 L201.15 224.46 L201.40 224.46 L201.65 224.47 L201.90 224.48 L202.15 224.49 L202.40 224.49 L202.65 224.50 L202.90 224.50 L203.15 224.51 L203.40 224.51 L203.65 224.52 L203.90 224.52 L204.15 224.53 L204.40 224.53 L204.65 224.53 L204.90 224.54 L205.15 224.54 L205.40 224.54 L205.65 224.55 L205.90 224.55 L206.15 224.55 L206.40 224.56 L206.65 224.56 L206.90 224.56 L207.15 224.57 L207.40 224.57 L207.65 224.57 L207.90 224.58 L208.15 224.58 L208.40 224.58 L208.65 224.59 L208.90 224.59 L209.15 224.59 L209.40 224.60 L209.65 224.60 L209.90 224.60 L210.15 224.60 L210.40 224.60 L210.65 224.59 L210.90 224.58 L211.15 224.57 L211.40 224.56 L211.65 224.54 L211.90 224.52 L212.15 224.49 L212.40 224.46 L212.65 224.43 L212.90 224.38 L213.15 224.33 L213.40 224.26 L213.65 224.19 L213.90 224.10 L214.15 224.00 L214.40 223.88 L214.65 223.75 L214.90 223.60 L215.15 223.43 L215.40 223.24 L215.65 223.02 L215.90 222.79 L216.15 222.54 L216.40 222.29 L216.65 222.04 L216.90 221.79 L217.15 221.57 L217.40 221.39 L217.65 221.26 L217.90 221.20 L218.15 221.22 L218.40 221.30 L218.65 221.45 L218.90 221.65 L219.15 221.88 L219.40 222.12 L219.65 222.37 L219.90 222.59 L220.15 222.80 L220.40 222.98 L220.65 223.12 L220.90 223.22 L221.15 223.27 L221.40 223.27 L221.65 223.22 L221.90 223.11 L222.15 222.94 L222.40 222.68 L222.65 222.29 L222.90 221.74 L223.15 220.92 L223.40 219.75 L223.65 218.13 L223.90 215.93 L224.15 213.04 L224.40 209.49 L224.65 205.47 L224.90 201.48 L225.15 198.37 L225.40 197.20 L225.65 198.47 L225.90 201.66 L226.15 205.75 L226.40 209.86 L226.65 213.50 L226.90 216.48 L227.15 218.78 L227.40 220.50 L227.65 221.76 L227.90 222.68 L228.15 223.34 L228.40 223.83 L228.65 224.21 L228.90 224.50 L229.15 224.73 L229.40 224.92 L229.65 225.08 L229.90 225.20 L230.15 225.29 L230.40 225.36 L230.65 225.42 L230.90 225.45 L231.15 225.47 L231.40 225.48 L231.65 225.48 L231.90 225.47 L232.15 225.45 L232.40 225.43 L232.65 225.41 L232.90 225.39 L233.15 225.37 L233.40 225.34 L233.65 225.32 L233.90 225.30 L234.15 225.28 L234.40 225.25 L234.65 225.23 L234.90 225.21 L235.15 225.18 L235.40 225.16 L235.65 225.14 L235.90 225.11 L236.15 225.09 L236.40 225.07 L236.65 225.05 L236.90 225.03 L237.15 225.01 L237.40 225.00 L237.65 224.98 L237.90 224.97 L238.15 224.95 L238.40 224.94 L238.65 224.93 L238.90 224.92 L239.15 224.91 L239.40 224.91 L239.65 224.90 L239.90 224.90 L240.15 224.90 L240.40 224.90 L240.65 224.90 L240.90 224.90 L241.15 224.90 L241.40 224.90 L241.65 224.90 L241.90 224.90 L242.15 224.90 L242.40 224.90 L242.65 224.90 L242.90 224.90 L243.15 224.90 L243.40 224.90 L243.65 224.90 L243.90 224.90 L244.15 224.90 L244.40 224.90 L244.65 224.90 L244.90 224.90 L245.15 224.90 L245.40 224.90 L245.65 224.90 L245.90 224.90 L246.15 224.90 L246.40 224.90 L246.65 224.90 L246.90 224.90 L247.15 224.90 L247.40 224.90 L247.65 224.90 L247.90 224.90 L248.15 224.90 L248.40 224.90 L248.65 224.90 L248.90 224.90 L249.15 224.90 L249.40 224.90 L249.65 224.90 L249.90 224.90 L250.15 224.90 L250.40 224.90 L250.65 224.90 L250.90 224.90 L251.15 224.90 L251.40 224.90 L251.65 224.90 L251.90 224.90 L252.15 224.90 L252.40 224.90 L252.65 224.90 L252.90 224.90 L253.15 224.90 L253.40 224.90 L253.65 224.90 L253.90 224.90 L254.15 224.90 L254.40 224.90 L254.65 224.90 L254.90 224.90 L255.15 224.90 L255.40 224.90 L255.65 224.90 L255.90 224.90 L256.15 224.90 L256.40 224.90 L256.65 224.90 L256.90 224.90 L257.15 224.90 L257.40 224.90 L257.65 224.90 L257.90 224.90 L258.15 224.90 L258.40 224.90 L258.65 224.90 L258.90 224.90 L259.15 224.90 L259.40 224.90 L259.65 224.90 L259.90 224.90 L260.15 224.90 L260.40 224.90 L260.65 224.90 L260.90 224.90 L261.15 224.90 L261.40 224.90 L261.65 224.90 L261.90 224.90 L262.15 224.90 L262.40 224.90 L262.65 224.90 L262.90 224.90 L263.15 224.90 L263.40 224.90 L263.65 224.90 L263.90 224.90 L264.15 224.90 L264.40 224.90 L264.65 224.90 L264.90 224.90 L265.15 224.90 L265.40 224.90 L265.65 224.90 L265.90 224.90 L266.15 224.90 L266.40 224.90 L266.65 224.90 L266.90 224.90 L267.15 224.90 L267.40 224.90 L267.65 224.90 L267.90 224.90 L268.15 224.90 L268.40 224.90 L268.65 224.90 L268.90 224.91 L269.15 224.91 L269.40 224.92 L269.65 224.92 L269.90 224.93 L270.15 224.94 L270.40 224.94 L270.65 224.94 L270.90 224.94 L271.15 224.93 L271.40 224.92 L271.65 224.91 L271.90 224.89 L272.15 224.87 L272.40 224.84 L272.65 224.81 L272.90 224.77 L273.15 224.72 L273.40 224.67 L273.65 224.60 L273.90 224.53 L274.15 224.45 L274.40 224.36 L274.65 224.27 L274.90 224.15 L275.15 224.03 L275.40 223.90 L275.65 223.75 L275.90 223.60 L276.15 223.42 L276.40 223.23 L276.65 223.03 L276.90 222.80 L277.15 222.55 L277.40 222.28 L277.65 221.98 L277.90 221.65 L278.15 221.28 L278.40 220.87 L278.65 220.41 L278.90 219.89 L279.15 219.31 L279.40 218.64 L279.65 217.88 L279.90 217.02 L280.15 216.04 L280.40 214.91 L280.65 213.64 L280.90 212.20 L281.15 210.59 L281.40 208.75 L281.65 206.67 L281.90 204.34 L282.15 201.75 L282.40 198.89 L282.65 195.79 L282.90 192.46 L283.15 188.95 L283.40 185.33 L283.65 181.68 L283.90 178.15 L284.15 174.91 L284.40 172.14 L284.65 170.04 L284.90 168.80 L285.15 168.53 L285.40 169.25 L285.65 170.90 L285.90 173.34 L286.15 176.38 L286.40 179.82 L286.65 183.46 L286.90 187.16 L287.15 190.80 L287.40 194.30 L287.65 197.59 L287.90 200.64 L288.15 203.44 L288.40 205.97 L288.65 208.25 L288.90 210.27 L289.15 212.06 L289.40 213.65 L289.65 215.06 L289.90 216.31 L290.15 217.41 L290.40 218.38 L290.65 219.24 L290.90 219.99 L291.15 220.65 L291.40 221.24 L291.65 221.76 L291.90 222.23 L292.15 222.64 L292.40 223.02 L292.65 223.36 L292.90 223.67 L293.15 223.96 L293.40 224.22 L293.65 224.46 L293.90 224.68 L294.15 224.88 L294.40 225.06 L294.65 225.23 L294.90 225.39 L295.15 225.53 L295.40 225.66 L295.65 225.78 L295.90 225.89 L296.15 225.99 L296.40 226.08 L296.65 226.16 L296.90 226.23 L297.15 226.29 L297.40 226.35 L297.65 226.40 L297.90 226.45 L298.15 226.49 L298.40 226.52 L298.65 226.55 L298.90 226.57 L299.15 226.59 L299.40 226.61 L299.65 226.63 L299.90 226.66 L300.15 226.70 L300.40 226.74 L300.65 226.79 L300.90 226.84 L301.15 226.89 L301.40 226.94 L301.65 226.98 L301.90 227.02 L302.15 227.06 L302.40 227.08 L302.65 227.09 L302.90 227.09 L303.15 227.07 L303.40 227.02 L303.65 226.96 L303.90 226.88 L304.15 226.78 L304.40 226.66 L304.65 226.52 L304.90 226.37 L305.15 226.19 L305.40 225.99 L305.65 225.75 L305.90 225.48 L306.15 225.19 L306.40 224.86 L306.65 224.51 L306.90 224.14 L307.15 223.77 L307.40 223.41 L307.65 223.07 L307.90 222.78 L308.15 222.56 L308.40 222.43 L308.65 222.40 L308.90 222.48 L309.15 222.66 L309.40 222.91 L309.65 223.23 L309.90 223.59 L310.15 223.97 L310.40 224.35 L310.65 224.72 L310.90 225.07 L311.15 225.39 L311.40 225.69 L311.65 225.95 L311.90 226.19 L312.15 226.39 L312.40 226.57 L312.65 226.73 L312.90 226.87 L313.15 227.00 L313.40 227.10 L313.65 227.19 L313.90 227.27 L314.15 227.34 L314.40 227.40 L314.65 227.45 L314.90 227.49 L315.15 227.53 L315.40 227.56 L315.65 227.59 L315.90 227.61 L316.15 227.64 L316.40 227.65 L316.65 227.67 L316.90 227.68 L317.15 227.69 L317.40 227.70 L317.65 227.71 L317.90 227.71 L318.15 227.72 L318.40 227.73 L318.65 227.73 L318.90 227.74 L319.15 227.74 L319.40 227.75 L319.65 227.76 L319.90 227.76 L320.15 227.77 L320.40 227.78 L320.65 227.78 L320.90 227.79 L321.15 227.79 L321.40 227.80 L321.65 227.81 L321.90 227.81 L322.15 227.82 L322.40 227.83 L322.65 227.83 L322.90 227.84 L323.15 227.85 L323.40 227.85 L323.65 227.86 L323.90 227.87 L324.15 227.87 L324.40 227.88 L324.65 227.89 L324.90 227.89 L325.15 227.90 L325.40 227.91 L325.65 227.92 L325.90 227.92 L326.15 227.93 L326.40 227.94 L326.65 227.94 L326.90 227.95 L327.15 227.96 L327.40 227.96 L327.65 227.97 L327.90 227.98 L328.15 227.99 L328.40 227.99 L328.65 228.00 L328.90 228.01 L329.15 228.02 L329.40 228.02 L329.65 228.03 L329.90 228.04 L330.15 228.05 L330.40 228.05 L330.65 228.06 L330.90 228.07 L331.15 228.08 L331.40 228.08 L331.65 228.09 L331.90 228.10 L332.15 228.11 L332.40 228.12 L332.65 228.12 L332.90 228.13 L333.15 228.14 L333.40 228.15 L333.65 228.16 L333.90 228.16 L334.15 228.17 L334.40 228.18 L334.65 228.19 L334.90 228.20 L335.15 228.21 L335.40 228.21 L335.65 228.22 L335.90 228.23 L336.15 228.24 L336.40 228.25 L336.65 228.26 L336.90 228.27 L337.15 228.27 L337.40 228.28 L337.65 228.29 L337.90 228.30 L338.15 228.31 L338.40 228.32 L338.65 228.33 L338.90 228.34 L339.15 228.35 L339.40 228.36 L339.65 228.37 L339.90 228.38 L340.15 228.39 L340.40 228.40 L340.65 228.41 L340.90 228.42 L341.15 228.43 L341.40 228.44 L341.65 228.45 L341.90 228.46 L342.15 228.47 L342.40 228.48 L342.65 228.49 L342.90 228.50 L343.15 228.51 L343.40 228.52 L343.65 228.53 L343.90 228.54 L344.15 228.55 L344.40 228.56 L344.65 228.57 L344.90 228.58 L345.15 228.59 L345.40 228.60 L345.65 228.61 L345.90 228.62 L346.15 228.63 L346.40 228.65 L346.65 228.66 L346.90 228.67 L347.15 228.68 L347.40 228.69 L347.65 228.70 L347.90 228.71 L348.15 228.72 L348.40 228.73 L348.65 228.75 L348.90 228.76 L349.15 228.77 L349.40 228.78 L349.65 228.79 L349.90 228.80 L350.15 228.82 L350.40 228.83 L350.65 228.84 L350.90 228.85 L351.15 228.86 L351.40 228.87 L351.65 228.89 L351.90 228.90 L352.15 228.91 L352.40 228.92 L352.65 228.93 L352.90 228.95 L353.15 228.96 L353.40 228.97" stroke="#3c3cf6"/>
<path d="M39.90 167.16 L40.15 167.13 L40.40 167.11 L40.65 167.08 L40.90 167.06 L41.15 167.03 L41.40 167.00 L41.65 166.98 L41.90 166.95 L42.15 166.92 L42.40 166.90 L42.65 166.87 L42.90 166.84 L43.15 166.81 L43.40 166.78 L43.65 166.76 L43.90 166.73 L44.15 166.70 L44.40 166.67 L44.65 166.64 L44.90 166.61 L45.15 166.58 L45.40 166.55 L45.65 166.52 L45.90 166.49 L46.15 166.46 L46.40 166.43 L46.65 166.40 L46.90 166.37 L47.15 166.34 L47.40 166.31 L47.65 166.28 L47.90 166.25 L48.15 166.22 L48.40 166.19 L48.65 166.15 L48.90 166.12 L49.15 166.09 L49.40 166.06 L49.65 166.03 L49.90 165.99 L50.15 165.96 L50.40 165.93 L50.65 165.90 L50.90 165.86 L51.15 165.83 L51.40 165.80 L51.65 165.76 L51.90 165.73 L52.15 165.69 L52.40 165.66 L52.65 165.63 L52.90 165.59 L53.15 165.56 L53.40 165.52 L53.65 165.49 L53.90 165.45 L54.15 165.42 L54.40 165.38 L54.65 165.35 L54.90 165.31 L55.15 165.28 L55.40 165.24 L55.65 165.21 L55.90 165.17 L56.15 165.14 L56.40 165.10 L56.65 165.06 L56.90 165.03 L57.15 164.99 L57.40 164.96 L57.65 164.92 L57.90 164.88 L58.15 164.85 L58.40 164.81 L58.65 164.77 L58.90 164.74 L59.15 164.70 L59.40 164.66 L59.65 164.62 L59.90 164.59 L60.15 164.55 L60.40 164.51 L60.65 164.47 L60.90 164.43 L61.15 164.39 L61.40 164.35 L61.65 164.31 L61.90 164.27 L62.15 164.23 L62.40 164.19 L62.65 164.15 L62.90 164.11 L63.15 164.07 L63.40 164.03 L63.65 163.99 L63.90 163.95 L64.15 163.90 L64.40 163.86 L64.65 163.82 L64.90 163.77 L65.15 163.73 L65.40 163.69 L65.65 163.64 L65.90 163.60 L66.15 163.55 L66.40 163.51 L66.65 163.46 L66.90 163.41 L67.15 163.37 L67.40 163.32 L67.65 163.27 L67.90 163.22 L68.15 163.17 L68.40 163.13 L68.65 163.08 L68.90 163.03 L69.15 162.98 L69.40 162.92 L69.65 162.87 L69.90 162.82 L70.15 162.77 L70.40 162.72 L70.65 162.66 L70.90 162.61 L71.15 162.56 L71.40 162.50 L71.65 162.45 L71.90 162.39 L72.15 162.33 L72.40 162.28 L72.65 162.22 L72.90 162.16 L73.15 162.10 L73.40 162.04 L73.65 161.98 L73.90 161.92 L74.15 161.86 L74.40 161.80 L74.65 161.73 L74.90 161.67 L75.15 161.60 L75.40 161.54 L75.65 161.47 L75.90 161.40 L76.15 161.33 L76.40 161.26 L76.65 161.19 L76.90 161.12 L77.15 161.04 L77.40 160.97 L77.65 160.89 L77.90 160.81 L78.15 160.73 L78.40 160.65 L78.65 160.57 L78.90 160.49 L79.15 160.40 L79.40 160.31 L79.65 160.23 L79.90 160.14 L80.15 160.04 L80.40 159.95 L80.65 159.85 L80.90 159.75 L81.15 159.65 L81.40 159.54 L81.65 159.43 L81.90 159.31 L82.15 159.18 L82.40 159.05 L82.65 158.92 L82.90 158.77 L83.15 158.62 L83.40 158.47 L83.65 158.30 L83.90 158.12 L84.15 157.93 L84.40 157.72 L84.65 157.50 L84.90 157.26 L85.15 157.01 L85.40 156.74 L85.65 156.46 L85.90 156.17 L86.15 155.86 L86.40 155.53 L86.65 155.19 L86.90 154.82 L87.15 154.41 L87.40 153.96 L87.65 153.48 L87.90 152.96 L88.15 152.40 L88.40 151.79 L88.65 151.14 L88.90 150.43 L89.15 149.63 L89.40 148.71 L89.65 147.64 L89.90 146.37 L90.15 144.79 L90.40 142.59 L90.65 139.85 L90.90 136.49 L91.15 131.75 L91.40 128.13 L91.65 125.61 L91.90 122.27 L92.15 118.12 L92.40 112.51 L92.65 104.52 L92.90 94.44 L93.15 82.83 L93.40 70.21 L93.65 56.60 L93.90 40.49 L94.15 22.44 L94.40 2.55 L94.65 -23.72 L94.90 -50.00 L95.15 -50.00 L95.40 -50.00 L95.65 -50.00 L95.90 -50.00 L96.15 -50.00 L96.40 -50.00 L96.65 -50.00 L96.90 -50.00 L97.15 -50.00 L97.40 -29.50 L97.65 4.29 L97.90 48.91 L98.15 79.94 L98.40 94.51 L98.65 103.21 L98.90 109.84 L99.15 116.38 L99.40 122.90 L99.65 127.63 L99.90 131.31 L100.15 134.23 L100.40 136.61 L100.65 138.61 L100.90 140.40 L101.15 142.04 L101.40 143.52 L101.65 144.78 L101.90 145.84 L102.15 146.81 L102.40 147.69 L102.65 148.46 L102.90 149.09 L103.15 149.59 L103.40 150.05 L103.65 150.47 L103.90 150.85 L104.15 151.20 L104.40 151.51 L104.65 151.79 L104.90 152.04 L105.15 152.26 L105.40 152.45 L105.65 152.64 L105.90 152.82 L106.15 152.99 L106.40 153.15 L106.65 153.30 L106.90 153.44 L107.15 153.57 L107.40 153.69 L107.65 153.79 L107.90 153.89 L108.15 153.98 L108.40 154.05 L108.65 154.11 L108.90 154.17 L109.15 154.22 L109.40 154.28 L109.65 154.33 L109.90 154.38 L110.15 154.42 L110.40 154.46 L110.65 154.50 L110.90 154.53 L111.15 154.56 L111.40 154.58 L111.65 154.59 L111.90 154.60 L112.15 154.60 L112.40 154.60 L112.65 154.59 L112.90 154.58 L113.15 154.56 L113.40 154.55 L113.65 154.53 L113.90 154.50 L114.15 154.48 L114.40 154.45 L114.65 154.42 L114.90 154.39 L115.15 154.36 L115.40 154.32 L115.65 154.29 L115.90 154.25 L116.15 154.21 L116.40 154.17 L116.65 154.13 L116.90 154.09 L117.15 154.05 L117.40 154.01 L117.65 153.97 L117.90 153.93 L118.15 153.88 L118.40 153.84 L118.65 153.80 L118.90 153.76 L119.15 153.72 L119.40 153.69 L119.65 153.65 L119.90 153.61 L120.15 153.58 L120.40 153.55 L120.65 153.51 L120.90 153.48 L121.15 153.45 L121.40 153.41 L121.65 153.38 L121.90 153.35 L122.15 153.31 L122.40 153.28 L122.65 153.25 L122.90 153.21 L123.15 153.18 L123.40 153.15 L123.65 153.11 L123.90 153.08 L124.15 153.04 L124.40 153.01 L124.65 152.97 L124.90 152.93 L125.15 152.89 L125.40 152.86 L125.65 152.82 L125.90 152.78 L126.15 152.74 L126.40 152.69 L126.65 152.65 L126.90 152.61 L127.15 152.56 L127.40 152.52 L127.65 152.47 L127.90 152.42 L128.15 152.37 L128.40 152.32 L128.65 152.26 L128.90 152.21 L129.15 152.15 L129.40 152.09 L129.65 152.03 L129.90 151.97 L130.15 151.91 L130.40 151.84 L130.65 151.77 L130.90 151.70 L131.15 151.63 L131.40 151.56 L131.65 151.49 L131.90 151.41 L132.15 151.33 L132.40 151.25 L132.65 151.17 L132.90 151.09 L133.15 151.00 L133.40 150.91 L133.65 150.83 L133.90 150.74 L134.15 150.64 L134.40 150.55 L134.65 150.45 L134.90 150.35 L135.15 150.25 L135.40 150.14 L135.65 150.03 L135.90 149.91 L136.15 149.79 L136.40 149.66 L136.65 149.52 L136.90 149.38 L137.15 149.23 L137.40 149.07 L137.65 148.90 L137.90 148.71 L138.15 148.51 L138.40 148.29 L138.65 148.05 L138.90 147.80 L139.15 147.53 L139.40 147.25 L139.65 146.95 L139.90 146.63 L140.15 146.29 L140.40 145.94 L140.65 145.58 L140.90 145.17 L141.15 144.73 L141.40 144.25 L141.65 143.73 L141.90 143.16 L142.15 142.55 L142.40 141.88 L142.65 141.15 L142.90 140.35 L143.15 139.41 L143.40 138.33 L143.65 137.07 L143.90 135.63 L144.15 133.91 L144.40 131.63 L144.65 128.90 L144.90 125.80 L145.15 121.96 L145.40 117.08 L145.65 112.93 L145.90 110.39 L146.15 108.46 L146.40 106.51 L146.65 103.90 L146.90 100.00 L147.15 90.26 L147.40 75.48 L147.65 62.99 L147.90 54.18 L148.15 41.89 L148.40 25.13 L148.65 7.43 L148.90 -13.71 L149.15 -37.95 L149.40 -50.00 L149.65 -50.00 L149.90 -50.00 L150.15 -50.00 L150.40 -50.00 L150.65 -50.00 L150.90 -50.00 L151.15 -28.10 L151.40 -4.70 L151.65 14.38 L151.90 30.36 L152.15 46.53 L152.40 65.00 L152.65 77.50 L152.90 87.73 L153.15 95.93 L153.40 102.40 L153.65 107.53 L153.90 111.83 L154.15 115.78 L154.40 119.49 L154.65 122.79 L154.90 125.54 L155.15 127.96 L155.40 130.09 L155.65 131.96 L155.90 133.61 L156.15 135.15 L156.40 136.56 L156.65 137.82 L156.90 138.91 L157.15 139.84 L157.40 140.70 L157.65 141.49 L157.90 142.21 L158.15 142.85 L158.40 143.42 L158.65 143.91 L158.90 144.34 L159.15 144.73 L159.40 145.10 L159.65 145.44 L159.90 145.76 L160.15 146.04 L160.40 146.29 L160.65 146.51 L160.90 146.70 L161.15 146.87 L161.40 147.02 L161.65 147.17 L161.90 147.30 L162.15 147.43 L162.40 147.54 L162.65 147.65 L162.90 147.75 L163.15 147.85 L163.40 147.94 L163.65 148.02 L163.90 148.10 L164.15 148.18 L164.40 148.26 L164.65 148.34 L164.90 148.41 L165.15 148.49 L165.40 148.55 L165.65 148.61 L165.90 148.65 L166.15 148.68 L166.40 148.70 L166.65 148.70 L166.90 148.69 L167.15 148.68 L167.40 148.66 L167.65 148.63 L167.90 148.60 L168.15 148.56 L168.40 148.51 L168.65 148.45 L168.90 148.38 L169.15 148.31 L169.40 148.23 L169.65 148.14 L169.90 148.04 L170.15 147.94 L170.40 147.82 L170.65 147.70 L170.90 147.57 L171.15 147.43 L171.40 147.28 L171.65 147.12 L171.90 146.95 L172.15 146.77 L172.40 146.59 L172.65 146.39 L172.90 146.18 L173.15 145.95 L173.40 145.72 L173.65 145.47 L173.90 145.20 L174.15 144.91 L174.40 144.61 L174.65 144.28 L174.90 143.93 L175.15 143.55 L175.40 143.13 L175.65 142.68 L175.90 142.18 L176.15 141.64 L176.40 141.05 L176.65 140.41 L176.90 139.71 L177.15 138.95 L177.40 138.12 L177.65 137.21 L177.90 136.22 L178.15 135.14 L178.40 133.96 L178.65 132.70 L178.90 131.36 L179.15 129.93 L179.40 128.44 L179.65 126.89 L179.90 125.31 L180.15 123.73 L180.40 122.17 L180.65 120.68 L180.90 119.32 L181.15 118.12 L181.40 117.15 L181.65 116.45 L181.90 116.06 L182.15 116.01 L182.40 116.27 L182.65 116.85 L182.90 117.69 L183.15 118.74 L183.40 119.95 L183.65 121.27 L183.90 122.64 L184.15 124.02 L184.40 125.39 L184.65 126.71 L184.90 127.96 L185.15 129.13 L185.40 130.21 L185.65 131.17 L185.90 132.01 L186.15 132.73 L186.40 133.32 L186.65 133.77 L186.90 134.09 L187.15 134.28 L187.40 134.33 L187.65 134.24 L187.90 134.03 L188.15 133.72 L188.40 133.36 L188.65 133.00 L188.90 132.73 L189.15 132.64 L189.40 132.80 L189.65 133.25 L189.90 133.97 L190.15 134.88 L190.40 135.89 L190.65 136.92 L190.90 137.93 L191.15 138.87 L191.40 139.72 L191.65 140.48 L191.90 141.14 L192.15 141.72 L192.40 142.24 L192.65 142.70 L192.90 143.10 L193.15 143.46 L193.40 143.78 L193.65 144.06 L193.90 144.32 L194.15 144.56 L194.40 144.77 L194.65 144.96 L194.90 145.15 L195.15 145.33 L195.40 145.52 L195.65 145.70 L195.90 145.89 L196.15 146.08 L196.40 146.27 L196.65 146.47 L196.90 146.66 L197.15 146.85 L197.40 147.03 L197.65 147.22 L197.90 147.40 L198.15 147.56 L198.40 147.72 L198.65 147.87 L198.90 148.01 L199.15 148.13 L199.40 148.23 L199.65 148.32 L199.90 148.38 L200.15 148.43 L200.40 148.47 L200.65 148.51 L200.90 148.55 L201.15 148.59 L201.40 148.63 L201.65 148.67 L201.90 148.71 L202.15 148.74 L202.40 148.77 L202.65 148.81 L202.90 148.84 L203.15 148.87 L203.40 148.89 L203.65 148.92 L203.90 148.95 L204.15 148.97 L204.40 148.99 L204.65 149.01 L204.90 149.03 L205.15 149.04 L205.40 149.06 L205.65 149.07 L205.90 149.08 L206.15 149.09 L206.40 149.09 L206.65 149.10 L206.90 149.10 L207.15 149.10 L207.40 149.10 L207.65 149.09 L207.90 149.08 L208.15 149.06 L208.40 149.05 L208.65 149.03 L208.90 149.01 L209.15 148.99 L209.40 148.97 L209.65 148.94 L209.90 148.92 L210.15 148.90 L210.40 148.87 L210.65 148.85 L210.90 148.82 L211.15 148.80 L211.40 148.77 L211.65 148.75 L211.90 148.72 L212.15 148.69 L212.40 148.67 L212.65 148.64 L212.90 148.61 L213.15 148.58 L213.40 148.55 L213.65 148.51 L213.90 148.47 L214.15 148.41 L214.40 148.35 L214.65 148.28 L214.90 148.19 L215.15 148.10 L215.40 147.98 L215.65 147.86 L215.90 147.71 L216.15 147.54 L216.40 147.35 L216.65 147.14 L216.90 146.91 L217.15 146.65 L217.40 146.38 L217.65 146.11 L217.90 145.84 L218.15 145.58 L218.40 145.35 L218.65 145.17 L218.90 145.05 L219.15 145.00 L219.40 145.03 L219.65 145.13 L219.90 145.30 L220.15 145.51 L220.40 145.75 L220.65 146.01 L220.90 146.26 L221.15 146.49 L221.40 146.71 L221.65 146.89 L221.90 147.04 L222.15 147.14 L222.40 147.19 L222.65 147.20 L222.90 147.13 L223.15 147.00 L223.40 146.76 L223.65 146.38 L223.90 145.82 L224.15 145.03 L224.40 143.95 L224.65 142.54 L224.90 140.78 L225.15 138.74 L225.40 136.56 L225.65 134.55 L225.90 133.16 L226.15 132.83 L226.40 133.71 L226.65 135.50 L226.90 137.71 L227.15 139.95 L227.40 141.99 L227.65 143.70 L227.90 145.08 L228.15 146.13 L228.40 146.94 L228.65 147.55 L228.90 147.99 L229.15 148.33 L229.40 148.59 L229.65 148.79 L229.90 148.95 L230.15 149.07 L230.40 149.18 L230.65 149.27 L230.90 149.34 L231.15 149.39 L231.40 149.44 L231.65 149.47 L231.90 149.50 L232.15 149.52 L232.40 149.53 L232.65 149.53 L232.90 149.53 L233.15 149.52 L233.40 149.52 L233.65 149.51 L233.90 149.49 L234.15 149.48 L234.40 149.47 L234.65 149.46 L234.90 149.45 L235.15 149.44 L235.40 149.43 L235.65 149.42 L235.90 149.41 L236.15 149.40 L236.40 149.39 L236.65 149.38 L236.90 149.37 L237.15 149.36 L237.40 149.35 L237.65 149.34 L237.90 149.33 L238.15 149.33 L238.40 149.32 L238.65 149.31 L238.90 149.31 L239.15 149.31 L239.40 149.30 L239.65 149.30 L239.90 149.30 L240.15 149.30 L240.40 149.30 L240.65 149.30 L240.90 149.30 L241.15 149.30 L241.40 149.30 L241.65 149.30 L241.90 149.30 L242.15 149.30 L242.40 149.30 L242.65 149.30 L242.90 149.31 L243.15 149.31 L243.40 149.31 L243.65 149.31 L243.90 149.31 L244.15 149.31 L244.40 149.31 L244.65 149.31 L244.90 149.32 L245.15 149.32 L245.40 149.32 L245.65 149.32 L245.90 149.32 L246.15 149.32 L246.40 149.33 L246.65 149.33 L246.90 149.33 L247.15 149.33 L247.40 149.33 L247.65 149.34 L247.90 149.34 L248.15 149.34 L248.40 149.34 L248.65 149.35 L248.90 149.35 L249.15 149.35 L249.40 149.35 L249.65 149.36 L249.90 149.36 L250.15 149.36 L250.40 149.36 L250.65 149.37 L250.90 149.37 L251.15 149.37 L251.40 149.37 L251.65 149.38 L251.90 149.38 L252.15 149.38 L252.40 149.39 L252.65 149.39 L252.90 149.39 L253.15 149.40 L253.40 149.40 L253.65 149.40 L253.90 149.41 L254.15 149.41 L254.40 149.41 L254.65 149.42 L254.90 149.42 L255.15 149.42 L255.40 149.43 L255.65 149.43 L255.90 149.43 L256.15 149.44 L256.40 149.44 L256.65 149.44 L256.90 149.45 L257.15 149.45 L257.40 149.45 L257.65 149.46 L257.90 149.46 L258.15 149.46 L258.40 149.47 L258.65 149.47 L258.90 149.48 L259.15 149.48 L259.40 149.48 L259.65 149.49 L259.90 149.49 L260.15 149.49 L260.40 149.50 L260.65 149.50 L260.90 149.50 L261.15 149.51 L261.40 149.51 L261.65 149.52 L261.90 149.52 L262.15 149.52 L262.40 149.53 L262.65 149.53 L262.90 149.53 L263.15 149.54 L263.40 149.54 L263.65 149.54 L263.90 149.55 L264.15 149.55 L264.40 149.56 L264.65 149.56 L264.90 149.56 L265.15 149.57 L265.40 149.57 L265.65 149.57 L265.90 149.58 L266.15 149.58 L266.40 149.58 L266.65 149.59 L266.90 149.59 L267.15 149.59 L267.40 149.60 L267.65 149.60 L267.90 149.60 L268.15 149.60 L268.40 149.60 L268.65 149.59 L268.90 149.58 L269.15 149.58 L269.40 149.56 L269.65 149.55 L269.90 149.53 L270.15 149.51 L270.40 149.49 L270.65 149.46 L270.90 149.43 L271.15 149.40 L271.40 149.36 L271.65 149.31 L271.90 149.26 L272.15 149.21 L272.40 149.15 L272.65 149.09 L272.90 149.01 L273.15 148.94 L273.40 148.85 L273.65 148.76 L273.90 148.66 L274.15 148.55 L274.40 148.43 L274.65 148.31 L274.90 148.17 L275.15 148.03 L275.40 147.87 L275.65 147.70 L275.90 147.51 L276.15 147.31 L276.40 147.08 L276.65 146.84 L276.90 146.58 L277.15 146.30 L277.40 145.98 L277.65 145.64 L277.90 145.26 L278.15 144.85 L278.40 144.39 L278.65 143.88 L278.90 143.31 L279.15 142.68 L279.40 141.98 L279.65 141.20 L279.90 140.34 L280.15 139.38 L280.40 138.32 L280.65 137.16 L280.90 135.87 L281.15 134.44 L281.40 132.86 L281.65 131.12 L281.90 129.23 L282.15 127.18 L282.40 124.97 L282.65 122.62 L282.90 120.15 L283.15 117.57 L283.40 114.94 L283.65 112.29 L283.90 109.69 L284.15 107.23 L284.40 105.01 L284.65 103.12 L284.90 101.67 L285.15 100.74 L285.40 100.40 L285.65 100.66 L285.90 101.50 L286.15 102.87 L286.40 104.68 L286.65 106.82 L286.90 109.20 L287.15 111.71 L287.40 114.28 L287.65 116.84 L287.90 119.34 L288.15 121.74 L288.40 124.02 L288.65 126.15 L288.90 128.13 L289.15 129.95 L289.40 131.62 L289.65 133.14 L289.90 134.50 L290.15 135.73 L290.40 136.84 L290.65 137.85 L290.90 138.75 L291.15 139.57 L291.40 140.30 L291.65 140.96 L291.90 141.55 L292.15 142.08 L292.40 142.55 L292.65 142.98 L292.90 143.38 L293.15 143.73 L293.40 144.06 L293.65 144.39 L293.90 144.70 L294.15 145.01 L294.40 145.31 L294.65 145.61 L294.90 145.90 L295.15 146.20 L295.40 146.48 L295.65 146.77 L295.90 147.04 L296.15 147.32 L296.40 147.58 L296.65 147.85 L296.90 148.10 L297.15 148.35 L297.40 148.58 L297.65 148.81 L297.90 149.03 L298.15 149.23 L298.40 149.43 L298.65 149.60 L298.90 149.77 L299.15 149.92 L299.40 150.05 L299.65 150.18 L299.90 150.30 L300.15 150.42 L300.40 150.54 L300.65 150.65 L300.90 150.75 L301.15 150.84 L301.40 150.93 L301.65 151.01 L301.90 151.08 L302.15 151.14 L302.40 151.20 L302.65 151.24 L302.90 151.27 L303.15 151.29 L303.40 151.29 L303.65 151.28 L303.90 151.26 L304.15 151.21 L304.40 151.15 L304.65 151.07 L304.90 150.97 L305.15 150.85 L305.40 150.72 L305.65 150.56 L305.90 150.37 L306.15 150.15 L306.40 149.90 L306.65 149.62 L306.90 149.32 L307.15 148.98 L307.40 148.64 L307.65 148.28 L307.90 147.94 L308.15 147.62 L308.40 147.34 L308.65 147.14 L308.90 147.02 L309.15 147.01 L309.40 147.09 L309.65 147.28 L309.90 147.55 L310.15 147.87 L310.40 148.23 L310.65 148.62 L310.90 149.00 L311.15 149.38 L311.40 149.73 L311.65 150.06 L311.90 150.36 L312.15 150.64 L312.40 150.88 L312.65 151.08 L312.90 151.27 L313.15 151.43 L313.40 151.58 L313.65 151.71 L313.90 151.82 L314.15 151.92 L314.40 152.00 L314.65 152.07 L314.90 152.14 L315.15 152.19 L315.40 152.24 L315.65 152.28 L315.90 152.32 L316.15 152.36 L316.40 152.39 L316.65 152.42 L316.90 152.44 L317.15 152.46 L317.40 152.48 L317.65 152.50 L317.90 152.51 L318.15 152.52 L318.40 152.54 L318.65 152.55 L318.90 152.56 L319.15 152.57 L319.40 152.58 L319.65 152.59 L319.90 152.60 L320.15 152.61 L320.40 152.63 L320.65 152.64 L320.90 152.65 L321.15 152.66 L321.40 152.67 L321.65 152.68 L321.90 152.69 L322.15 152.70 L322.40 152.71 L322.65 152.72 L322.90 152.73 L323.15 152.74 L323.40 152.75 L323.65 152.76 L323.90 152.77 L324.15 152.78 L324.40 152.79 L324.65 152.80 L324.90 152.81 L325.15 152.82 L325.40 152.83 L325.65 152.84 L325.90 152.85 L326.15 152.86 L326.40 152.87 L326.65 152.88 L326.90 152.89 L327.15 152.90 L327.40 152.91 L327.65 152.91 L327.90 152.92 L328.15 152.93 L328.40 152.94 L328.65 152.95 L328.90 152.96 L329.15 152.97 L329.40 152.98 L329.65 152.99 L329.90 153.00 L330.15 153.01 L330.40 153.02 L330.65 153.03 L330.90 153.04 L331.15 153.05 L331.40 153.06 L331.65 153.07 L331.90 153.08 L332.15 153.09 L332.40 153.10 L332.65 153.11 L332.90 153.12 L333.15 153.13 L333.40 153.13 L333.65 153.14 L333.90 153.16 L334.15 153.17 L334.40 153.18 L334.65 153.19 L334.90 153.20 L335.15 153.21 L335.40 153.22 L335.65 153.23 L335.90 153.24 L336.15 153.25 L336.40 153.26 L336.65 153.27 L336.90 153.28 L337.15 153.29 L337.40 153.30 L337.65 153.31 L337.90 153.32 L338.15 153.33 L338.40 153.34 L338.65 153.35 L338.90 153.36 L339.15 153.37 L339.40 153.38 L339.65 153.39 L339.90 153.40 L340.15 153.41 L340.40 153.42 L340.65 153.44 L340.90 153.45 L341.15 153.46 L341.40 153.47 L341.65 153.48 L341.90 153.49 L342.15 153.50 L342.40 153.51 L342.65 153.52 L342.90 153.53 L343.15 153.54 L343.40 153.55 L343.65 153.56 L343.90 153.57 L344.15 153.58 L344.40 153.59 L344.65 153.60 L344.90 153.61 L345.15 153.62 L345.40 153.63 L345.65 153.65 L345.90 153.66 L346.15 153.67 L346.40 153.68 L346.65 153.69 L346.90 153.70 L347.15 153.71 L347.40 153.72 L347.65 153.73 L347.90 153.74 L348.15 153.75 L348.40 153.76 L348.65 153.77 L348.90 153.78 L349.15 153.79 L349.40 153.80 L349.65 153.81 L349.90 153.83 L350.15 153.84 L350.40 153.85 L350.65 153.86 L350.90 153.87 L351.15 153.88 L351.40 153.89 L351.65 153.90 L351.90 153.91 L352.15 153.92 L352.40 153.93 L352.65 153.94 L352.90 153.95 L353.15 153.96 L353.40 153.97" stroke="#f63c3c"/>
<path d="M39.90 88.27 L40.15 88.26 L40.40 88.24 L40.65 88.22 L40.90 88.21 L41.15 88.19 L41.40 88.17 L41.65 88.15 L41.90 88.13 L42.15 88.11 L42.40 88.10 L42.65 88.08 L42.90 88.06 L43.15 88.04 L43.40 88.02 L43.65 88.00 L43.90 87.98 L44.15 87.96 L44.40 87.94 L44.65 87.92 L44.90 87.89 L45.15 87.87 L45.40 87.85 L45.65 87.83 L45.90 87.81 L46.15 87.79 L46.40 87.76 L46.65 87.74 L46.90 87.72 L47.15 87.70 L47.40 87.67 L47.65 87.65 L47.90 87.63 L48.15 87.60 L48.40 87.58 L48.65 87.56 L48.90 87.53 L49.15 87.51 L49.40 87.48 L49.65 87.46 L49.90 87.43 L50.15 87.41 L50.40 87.38 L50.65 87.36 L50.90 87.33 L51.15 87.31 L51.40 87.28 L51.65 87.26 L51.90 87.23 L52.15 87.21 L52.40 87.18 L52.65 87.15 L52.90 87.13 L53.15 87.10 L53.40 87.07 L53.65 87.05 L53.90 87.02 L54.15 86.99 L54.40 86.97 L54.65 86.94 L54.90 86.91 L55.15 86.88 L55.40 86.86 L55.65 86.83 L55.90 86.80 L56.15 86.77 L56.40 86.74 L56.65 86.72 L56.90 86.69 L57.15 86.66 L57.40 86.63 L57.65 86.60 L57.90 86.57 L58.15 86.55 L58.40 86.52 L58.65 86.49 L58.90 86.46 L59.15 86.43 L59.40 86.40 L59.65 86.37 L59.90 86.34 L60.15 86.31 L60.40 86.28 L60.65 86.24 L60.90 86.21 L61.15 86.18 L61.40 86.15 L61.65 86.12 L61.90 86.08 L62.15 86.05 L62.40 86.02 L62.65 85.98 L62.90 85.95 L63.15 85.92 L63.40 85.88 L63.65 85.85 L63.90 85.81 L64.15 85.77 L64.40 85.74 L64.65 85.70 L64.90 85.66 L65.15 85.63 L65.40 85.59 L65.65 85.55 L65.90 85.51 L66.15 85.47 L66.40 85.43 L66.65 85.39 L66.90 85.35 L67.15 85.31 L67.40 85.27 L67.65 85.23 L67.90 85.18 L68.15 85.14 L68.40 85.10 L68.65 85.05 L68.90 85.01 L69.15 84.96 L69.40 84.91 L69.65 84.87 L69.90 84.82 L70.15 84.77 L70.40 84.72 L70.65 84.67 L70.90 84.62 L71.15 84.56 L71.40 84.50 L71.65 84.45 L71.90 84.39 L72.15 84.32 L72.40 84.26 L72.65 84.20 L72.90 84.13 L73.15 84.06 L73.40 83.99 L73.65 83.92 L73.90 83.85 L74.15 83.78 L74.40 83.70 L74.65 83.63 L74.90 83.55 L75.15 83.47 L75.40 83.39 L75.65 83.31 L75.90 83.23 L76.15 83.15 L76.40 83.06 L76.65 82.98 L76.90 82.89 L77.15 82.79 L77.40 82.70 L77.65 82.60 L77.90 82.50 L78.15 82.40 L78.40 82.30 L78.65 82.19 L78.90 82.09 L79.15 81.98 L79.40 81.87 L79.65 81.75 L79.90 81.64 L80.15 81.52 L80.40 81.40 L80.65 81.28 L80.90 81.16 L81.15 81.03 L81.40 80.91 L81.65 80.78 L81.90 80.65 L82.15 80.52 L82.40 80.39 L82.65 80.26 L82.90 80.12 L83.15 79.98 L83.40 79.84 L83.65 79.69 L83.90 79.54 L84.15 79.38 L84.40 79.22 L84.65 79.05 L84.90 78.87 L85.15 78.68 L85.40 78.48 L85.65 78.27 L85.90 78.05 L86.15 77.82 L86.40 77.57 L86.65 77.31 L86.90 77.03 L87.15 76.74 L87.40 76.43 L87.65 76.11 L87.90 75.77 L88.15 75.42 L88.40 75.05 L88.65 74.67 L88.90 74.26 L89.15 73.83 L89.40 73.36 L89.65 72.86 L89.90 72.31 L90.15 71.71 L90.40 71.06 L90.65 70.35 L90.90 69.55 L91.15 68.59 L91.40 67.48 L91.65 66.20 L91.90 64.74 L92.15 63.00 L92.40 60.71 L92.65 58.03 L92.90 55.11 L93.15 51.73 L93.40 47.34 L93.65 40.92 L93.90 32.95 L94.15 24.02 L94.40 14.71 L94.65 5.13 L94.90 -6.01 L95.15 -18.49 L95.40 -31.86 L95.65 -45.68 L95.90 -50.00 L96.15 -50.00 L96.40 -50.00 L96.65 -50.00 L96.90 -50.00 L97.15 -50.00 L97.40 -50.00 L97.65 -50.00 L97.90 -50.00 L98.15 -50.00 L98.40 -50.00 L98.65 -50.00 L98.90 -50.00 L99.15 -50.00 L99.40 -50.00 L99.65 -45.68 L99.90 -31.86 L100.15 -18.49 L100.40 -6.01 L100.65 5.13 L100.90 14.75 L101.15 24.45 L101.40 33.73 L101.65 41.51 L101.90 46.85 L102.15 50.62 L102.40 53.70 L102.65 56.55 L102.90 59.10 L103.15 61.16 L103.40 62.73 L103.65 64.09 L103.90 65.28 L104.15 66.30 L104.40 67.18 L104.65 67.95 L104.90 68.65 L105.15 69.29 L105.40 69.87 L105.65 70.40 L105.90 70.86 L106.15 71.28 L106.40 71.64 L106.65 71.98 L106.90 72.29 L107.15 72.59 L107.40 72.87 L107.65 73.13 L107.90 73.37 L108.15 73.59 L108.40 73.78 L108.65 73.95 L108.90 74.10 L109.15 74.23 L109.40 74.36 L109.65 74.47 L109.90 74.58 L110.15 74.68 L110.40 74.78 L110.65 74.87 L110.90 74.95 L111.15 75.02 L111.40 75.09 L111.65 75.15 L111.90 75.20 L112.15 75.25 L112.40 75.30 L112.65 75.35 L112.90 75.39 L113.15 75.43 L113.40 75.47 L113.65 75.49 L113.90 75.50 L114.15 75.50 L114.40 75.49 L114.65 75.48 L114.90 75.47 L115.15 75.45 L115.40 75.43 L115.65 75.41 L115.90 75.38 L116.15 75.34 L116.40 75.31 L116.65 75.27 L116.90 75.23 L117.15 75.19 L117.40 75.14 L117.65 75.10 L117.90 75.05 L118.15 75.00 L118.40 74.95 L118.65 74.90 L118.90 74.84 L119.15 74.79 L119.40 74.74 L119.65 74.68 L119.90 74.63 L120.15 74.57 L120.40 74.52 L120.65 74.47 L120.90 74.41 L121.15 74.36 L121.40 74.31 L121.65 74.26 L121.90 74.22 L122.15 74.17 L122.40 74.13 L122.65 74.08 L122.90 74.04 L123.15 73.99 L123.40 73.95 L123.65 73.90 L123.90 73.85 L124.15 73.81 L124.40 73.76 L124.65 73.71 L124.90 73.66 L125.15 73.62 L125.40 73.57 L125.65 73.52 L125.90 73.47 L126.15 73.42 L126.40 73.37 L126.65 73.32 L126.90 73.27 L127.15 73.22 L127.40 73.17 L127.65 73.12 L127.90 73.06 L128.15 73.01 L128.40 72.96 L128.65 72.90 L128.90 72.85 L129.15 72.79 L129.40 72.74 L129.65 72.68 L129.90 72.62 L130.15 72.57 L130.40 72.51 L130.65 72.45 L130.90 72.39 L131.15 72.34 L131.40 72.28 L131.65 72.22 L131.90 72.16 L132.15 72.10 L132.40 72.04 L132.65 71.98 L132.90 71.92 L133.15 71.85 L133.40 71.79 L133.65 71.72 L133.90 71.65 L134.15 71.58 L134.40 71.51 L134.65 71.44 L134.90 71.36 L135.15 71.28 L135.40 71.20 L135.65 71.12 L135.90 71.04 L136.15 70.95 L136.40 70.86 L136.65 70.76 L136.90 70.67 L137.15 70.57 L137.40 70.46 L137.65 70.35 L137.90 70.24 L138.15 70.12 L138.40 69.98 L138.65 69.85 L138.90 69.70 L139.15 69.54 L139.40 69.37 L139.65 69.19 L139.90 68.97 L140.15 68.73 L140.40 68.46 L140.65 68.17 L140.90 67.85 L141.15 67.51 L141.40 67.16 L141.65 66.78 L141.90 66.39 L142.15 65.99 L142.40 65.57 L142.65 65.14 L142.90 64.68 L143.15 64.19 L143.40 63.67 L143.65 63.11 L143.90 62.50 L144.15 61.84 L144.40 61.13 L144.65 60.36 L144.90 59.52 L145.15 58.55 L145.40 57.45 L145.65 56.18 L145.90 54.74 L146.15 53.01 L146.40 50.77 L146.65 48.08 L146.90 45.02 L147.15 41.23 L147.40 36.25 L147.65 29.68 L147.90 22.46 L148.15 15.16 L148.40 8.26 L148.65 0.95 L148.90 -6.88 L149.15 -15.03 L149.40 -23.34 L149.65 -31.61 L149.90 -39.67 L150.15 -47.34 L150.40 -50.00 L150.65 -50.00 L150.90 -50.00 L151.15 -50.00 L151.40 -50.00 L151.65 -50.00 L151.90 -50.00 L152.15 -50.00 L152.40 -50.00 L152.65 -50.00 L152.90 -50.00 L153.15 -50.00 L153.40 -45.84 L153.65 -38.08 L153.90 -29.97 L154.15 -21.67 L154.40 -13.38 L154.65 -5.28 L154.90 2.46 L155.15 9.64 L155.40 16.91 L155.65 24.90 L155.90 31.95 L156.15 36.53 L156.40 39.67 L156.65 42.23 L156.90 44.69 L157.15 47.07 L157.40 49.25 L157.65 51.16 L157.90 52.79 L158.15 54.29 L158.40 55.66 L158.65 56.89 L158.90 58.00 L159.15 58.98 L159.40 59.91 L159.65 60.77 L159.90 61.57 L160.15 62.30 L160.40 62.94 L160.65 63.50 L160.90 63.98 L161.15 64.43 L161.40 64.85 L161.65 65.24 L161.90 65.60 L162.15 65.92 L162.40 66.21 L162.65 66.47 L162.90 66.70 L163.15 66.90 L163.40 67.10 L163.65 67.28 L163.90 67.45 L164.15 67.62 L164.40 67.76 L164.65 67.90 L164.90 68.03 L165.15 68.14 L165.40 68.24 L165.65 68.33 L165.90 68.40 L166.15 68.47 L166.40 68.53 L166.65 68.59 L166.90 68.64 L167.15 68.69 L167.40 68.72 L167.65 68.75 L167.90 68.75 L168.15 68.74 L168.40 68.72 L168.65 68.67 L168.90 68.62 L169.15 68.57 L169.40 68.50 L169.65 68.44 L169.90 68.37 L170.15 68.29 L170.40 68.21 L170.65 68.12 L170.90 68.02 L171.15 67.92 L171.40 67.80 L171.65 67.68 L171.90 67.55 L172.15 67.41 L172.40 67.25 L172.65 67.08 L172.90 66.89 L173.15 66.69 L173.40 66.47 L173.65 66.22 L173.90 65.95 L174.15 65.65 L174.40 65.32 L174.65 64.96 L174.90 64.56 L175.15 64.12 L175.40 63.63 L175.65 63.11 L175.90 62.54 L176.15 61.92 L176.40 61.24 L176.65 60.50 L176.90 59.69 L177.15 58.81 L177.40 57.86 L177.65 56.84 L177.90 55.76 L178.15 54.62 L178.40 53.41 L178.65 52.16 L178.90 50.87 L179.15 49.56 L179.40 48.24 L179.65 46.94 L179.90 45.68 L180.15 44.49 L180.40 43.41 L180.65 42.46 L180.90 41.70 L181.15 41.13 L181.40 40.79 L181.65 40.70 L181.90 40.86 L182.15 41.25 L182.40 41.86 L182.65 42.66 L182.90 43.62 L183.15 44.71 L183.40 45.88 L183.65 47.11 L183.90 48.36 L184.15 49.61 L184.40 50.85 L184.65 52.05 L184.90 53.21 L185.15 54.30 L185.40 55.33 L185.65 56.28 L185.90 57.15 L186.15 57.94 L186.40 58.64 L186.65 59.25 L186.90 59.76 L187.15 60.18 L187.40 60.50 L187.65 60.73 L187.90 60.85 L188.15 60.88 L188.40 60.80 L188.65 60.61 L188.90 60.29 L189.15 59.86 L189.40 59.32 L189.65 58.67 L189.90 57.93 L190.15 57.13 L190.40 56.28 L190.65 55.43 L190.90 54.63 L191.15 53.93 L191.40 53.39 L191.65 53.07 L191.90 53.00 L192.15 53.21 L192.40 53.68 L192.65 54.37 L192.90 55.23 L193.15 56.19 L193.40 57.22 L193.65 58.25 L193.90 59.26 L194.15 60.23 L194.40 61.12 L194.65 61.94 L194.90 62.68 L195.15 63.33 L195.40 63.90 L195.65 64.39 L195.90 64.82 L196.15 65.20 L196.40 65.53 L196.65 65.83 L196.90 66.11 L197.15 66.37 L197.40 66.63 L197.65 66.87 L197.90 67.11 L198.15 67.34 L198.40 67.57 L198.65 67.79 L198.90 68.00 L199.15 68.20 L199.40 68.40 L199.65 68.58 L199.90 68.75 L200.15 68.91 L200.40 69.05 L200.65 69.17 L200.90 69.27 L201.15 69.35 L201.40 69.42 L201.65 69.49 L201.90 69.56 L202.15 69.62 L202.40 69.68 L202.65 69.74 L202.90 69.80 L203.15 69.85 L203.40 69.90 L203.65 69.95 L203.90 69.99 L204.15 70.04 L204.40 70.08 L204.65 70.11 L204.90 70.15 L205.15 70.18 L205.40 70.21 L205.65 70.23 L205.90 70.26 L206.15 70.27 L206.40 70.29 L206.65 70.30 L206.90 70.30 L207.15 70.30 L207.40 70.29 L207.65 70.29 L207.90 70.27 L208.15 70.26 L208.40 70.24 L208.65 70.22 L208.90 70.19 L209.15 70.17 L209.40 70.14 L209.65 70.11 L209.90 70.08 L210.15 70.04 L210.40 70.01 L210.65 69.97 L210.90 69.93 L211.15 69.90 L211.40 69.86 L211.65 69.82 L211.90 69.78 L212.15 69.74 L212.40 69.70 L212.65 69.66 L212.90 69.62 L213.15 69.57 L213.40 69.53 L213.65 69.47 L213.90 69.41 L214.15 69.33 L214.40 69.25 L214.65 69.16 L214.90 69.06 L215.15 68.94 L215.40 68.82 L215.65 68.67 L215.90 68.51 L216.15 68.33 L216.40 68.14 L216.65 67.92 L216.90 67.69 L217.15 67.46 L217.40 67.21 L217.65 66.96 L217.90 66.72 L218.15 66.50 L218.40 66.31 L218.65 66.15 L218.90 66.05 L219.15 66.00 L219.40 66.02 L219.65 66.09 L219.90 66.22 L220.15 66.40 L220.40 66.60 L220.65 66.83 L220.90 67.07 L221.15 67.31 L221.40 67.54 L221.65 67.77 L221.90 67.98 L222.15 68.18 L222.40 68.36 L222.65 68.51 L222.90 68.65 L223.15 68.76 L223.40 68.85 L223.65 68.93 L223.90 68.98 L224.15 69.02 L224.40 69.04 L224.65 69.05 L224.90 69.04 L225.15 69.01 L225.40 68.96 L225.65 68.89 L225.90 68.79 L226.15 68.66 L226.40 68.48 L226.65 68.25 L226.90 67.92 L227.15 67.49 L227.40 66.89 L227.65 66.10 L227.90 65.08 L228.15 63.77 L228.40 62.15 L228.65 60.25 L228.90 58.17 L229.15 56.07 L229.40 54.27 L229.65 53.18 L229.90 53.10 L230.15 54.09 L230.40 55.85 L230.65 57.99 L230.90 60.17 L231.15 62.19 L231.40 63.93 L231.65 65.38 L231.90 66.52 L232.15 67.43 L232.40 68.13 L232.65 68.66 L232.90 69.07 L233.15 69.39 L233.40 69.64 L233.65 69.84 L233.90 70.01 L234.15 70.14 L234.40 70.26 L234.65 70.36 L234.90 70.44 L235.15 70.51 L235.40 70.56 L235.65 70.61 L235.90 70.65 L236.15 70.69 L236.40 70.71 L236.65 70.73 L236.90 70.75 L237.15 70.76 L237.40 70.77 L237.65 70.77 L237.90 70.78 L238.15 70.78 L238.40 70.78 L238.65 70.79 L238.90 70.79 L239.15 70.79 L239.40 70.79 L239.65 70.80 L239.90 70.80 L240.15 70.80 L240.40 70.81 L240.65 70.81 L240.90 70.81 L241.15 70.81 L241.40 70.81 L241.65 70.82 L241.90 70.82 L242.15 70.82 L242.40 70.82 L242.65 70.83 L242.90 70.83 L243.15 70.83 L243.40 70.83 L243.65 70.83 L243.90 70.84 L244.15 70.84 L244.40 70.84 L244.65 70.84 L244.90 70.84 L245.15 70.85 L245.40 70.85 L245.65 70.85 L245.90 70.85 L246.15 70.85 L246.40 70.86 L246.65 70.86 L246.90 70.86 L247.15 70.86 L247.40 70.87 L247.65 70.87 L247.90 70.87 L248.15 70.88 L248.40 70.88 L248.65 70.88 L248.90 70.88 L249.15 70.89 L249.40 70.89 L249.65 70.89 L249.90 70.90 L250.15 70.90 L250.40 70.91 L250.65 70.91 L250.90 70.91 L251.15 70.92 L251.40 70.92 L251.65 70.93 L251.90 70.93 L252.15 70.94 L252.40 70.94 L252.65 70.95 L252.90 70.95 L253.15 70.96 L253.40 70.96 L253.65 70.97 L253.90 70.97 L254.15 70.98 L254.40 70.98 L254.65 70.99 L254.90 70.99 L255.15 71.00 L255.40 71.00 L255.65 71.01 L255.90 71.01 L256.15 71.02 L256.40 71.03 L256.65 71.03 L256.90 71.04 L257.15 71.04 L257.40 71.05 L257.65 71.05 L257.90 71.06 L258.15 71.07 L258.40 71.07 L258.65 71.08 L258.90 71.08 L259.15 71.09 L259.40 71.10 L259.65 71.10 L259.90 71.11 L260.15 71.12 L260.40 71.12 L260.65 71.13 L260.90 71.13 L261.15 71.14 L261.40 71.15 L261.65 71.15 L261.90 71.16 L262.15 71.16 L262.40 71.17 L262.65 71.18 L262.90 71.18 L263.15 71.19 L263.40 71.19 L263.65 71.20 L263.90 71.21 L264.15 71.21 L264.40 71.22 L264.65 71.22 L264.90 71.23 L265.15 71.24 L265.40 71.24 L265.65 71.25 L265.90 71.25 L266.15 71.26 L266.40 71.27 L266.65 71.27 L266.90 71.28 L267.15 71.28 L267.40 71.29 L267.65 71.29 L267.90 71.30 L268.15 71.30 L268.40 71.31 L268.65 71.31 L268.90 71.32 L269.15 71.32 L269.40 71.32 L269.65 71.32 L269.90 71.32 L270.15 71.31 L270.40 71.31 L270.65 71.30 L270.90 71.29 L271.15 71.28 L271.40 71.27 L271.65 71.25 L271.90 71.23 L272.15 71.22 L272.40 71.19 L272.65 71.17 L272.90 71.14 L273.15 71.11 L273.40 71.08 L273.65 71.05 L273.90 71.01 L274.15 70.97 L274.40 70.92 L274.65 70.87 L274.90 70.82 L275.15 70.77 L275.40 70.70 L275.65 70.64 L275.90 70.57 L276.15 70.49 L276.40 70.40 L276.65 70.31 L276.90 70.20 L277.15 70.09 L277.40 69.96 L277.65 69.82 L277.90 69.67 L278.15 69.49 L278.40 69.30 L278.65 69.08 L278.90 68.84 L279.15 68.57 L279.40 68.26 L279.65 67.93 L279.90 67.55 L280.15 67.14 L280.40 66.69 L280.65 66.19 L280.90 65.65 L281.15 65.06 L281.40 64.41 L281.65 63.70 L281.90 62.93 L282.15 62.09 L282.40 61.20 L282.65 60.24 L282.90 59.21 L283.15 58.13 L283.40 57.00 L283.65 55.82 L283.90 54.60 L284.15 53.35 L284.40 52.08 L284.65 50.82 L284.90 49.56 L285.15 48.35 L285.40 47.19 L285.65 46.11 L285.90 45.14 L286.15 44.31 L286.40 43.63 L286.65 43.12 L286.90 42.80 L287.15 42.66 L287.40 42.70 L287.65 42.91 L287.90 43.26 L288.15 43.74 L288.40 44.32 L288.65 44.97 L288.90 45.68 L289.15 46.41 L289.40 47.16 L289.65 47.90 L289.90 48.62 L290.15 49.33 L290.40 50.00 L290.65 50.64 L290.90 51.25 L291.15 51.84 L291.40 52.40 L291.65 52.95 L291.90 53.49 L292.15 54.03 L292.40 54.58 L292.65 55.15 L292.90 55.74 L293.15 56.36 L293.40 57.02 L293.65 57.70 L293.90 58.41 L294.15 59.13 L294.40 59.86 L294.65 60.60 L294.90 61.34 L295.15 62.07 L295.40 62.78 L295.65 63.48 L295.90 64.16 L296.15 64.81 L296.40 65.44 L296.65 66.04 L296.90 66.61 L297.15 67.14 L297.40 67.65 L297.65 68.12 L297.90 68.56 L298.15 68.98 L298.40 69.36 L298.65 69.71 L298.90 70.03 L299.15 70.34 L299.40 70.63 L299.65 70.90 L299.90 71.15 L300.15 71.38 L300.40 71.60 L300.65 71.79 L300.90 71.98 L301.15 72.14 L301.40 72.30 L301.65 72.44 L301.90 72.57 L302.15 72.69 L302.40 72.81 L302.65 72.91 L302.90 73.00 L303.15 73.08 L303.40 73.16 L303.65 73.23 L303.90 73.29 L304.15 73.34 L304.40 73.38 L304.65 73.42 L304.90 73.45 L305.15 73.48 L305.40 73.50 L305.65 73.52 L305.90 73.53 L306.15 73.54 L306.40 73.55 L306.65 73.55 L306.90 73.55 L307.15 73.54 L307.40 73.53 L307.65 73.52 L307.90 73.49 L308.15 73.46 L308.40 73.43 L308.65 73.38 L308.90 73.33 L309.15 73.27 L309.40 73.19 L309.65 73.11 L309.90 73.02 L310.15 72.91 L310.40 72.79 L310.65 72.66 L310.90 72.51 L311.15 72.35 L311.40 72.17 L311.65 71.99 L311.90 71.81 L312.15 71.63 L312.40 71.46 L312.65 71.30 L312.90 71.17 L313.15 71.07 L313.40 71.01 L313.65 71.00 L313.90 71.04 L314.15 71.12 L314.40 71.24 L314.65 71.40 L314.90 71.57 L315.15 71.76 L315.40 71.95 L315.65 72.14 L315.90 72.33 L316.15 72.51 L316.40 72.67 L316.65 72.83 L316.90 72.97 L317.15 73.10 L317.40 73.21 L317.65 73.31 L317.90 73.40 L318.15 73.48 L318.40 73.55 L318.65 73.62 L318.90 73.68 L319.15 73.73 L319.40 73.77 L319.65 73.81 L319.90 73.85 L320.15 73.88 L320.40 73.91 L320.65 73.93 L320.90 73.96 L321.15 73.98 L321.40 74.00 L321.65 74.02 L321.90 74.04 L322.15 74.05 L322.40 74.07 L322.65 74.08 L322.90 74.10 L323.15 74.11 L323.40 74.12 L323.65 74.14 L323.90 74.15 L324.15 74.16 L324.40 74.17 L324.65 74.19 L324.90 74.20 L325.15 74.21 L325.40 74.23 L325.65 74.24 L325.90 74.25 L326.15 74.27 L326.40 74.28 L326.65 74.30 L326.90 74.31 L327.15 74.33 L327.40 74.34 L327.65 74.36 L327.90 74.37 L328.15 74.39 L328.40 74.40 L328.65 74.42 L328.90 74.43 L329.15 74.45 L329.40 74.46 L329.65 74.48 L329.90 74.49 L330.15 74.51 L330.40 74.53 L330.65 74.54 L330.90 74.56 L331.15 74.57 L331.40 74.59 L331.65 74.60 L331.90 74.62 L332.15 74.63 L332.40 74.65 L332.65 74.66 L332.90 74.68 L333.15 74.69 L333.40 74.71 L333.65 74.72 L333.90 74.74 L334.15 74.75 L334.40 74.77 L334.65 74.78 L334.90 74.79 L335.15 74.81 L335.40 74.82 L335.65 74.84 L335.90 74.85 L336.15 74.86 L336.40 74.88 L336.65 74.89 L336.90 74.90 L337.15 74.92 L337.40 74.93 L337.65 74.94 L337.90 74.96 L338.15 74.97 L338.40 74.98 L338.65 75.00 L338.90 75.01 L339.15 75.02 L339.40 75.04 L339.65 75.05 L339.90 75.06 L340.15 75.08 L340.40 75.09 L340.65 75.10 L340.90 75.12 L341.15 75.13 L341.40 75.14 L341.65 75.16 L341.90 75.17 L342.15 75.18 L342.40 75.20 L342.65 75.21 L342.90 75.22 L343.15 75.24 L343.40 75.25 L343.65 75.26 L343.90 75.28 L344.15 75.29 L344.40 75.30 L344.65 75.32 L344.90 75.33 L345.15 75.34 L345.40 75.36 L345.65 75.37 L345.90 75.38 L346.15 75.40 L346.40 75.41 L346.65 75.42 L346.90 75.43 L347.15 75.45 L347.40 75.46 L347.65 75.47 L347.90 75.49 L348.15 75.50 L348.40 75.51 L348.65 75.53 L348.90 75.54 L349.15 75.55 L349.40 75.56 L349.65 75.58 L349.90 75.59 L350.15 75.60 L350.40 75.62 L350.65 75.63 L350.90 75.64 L351.15 75.65 L351.40 75.67 L351.65 75.68 L351.90 75.69 L352.15 75.71 L352.40 75.72 L352.65 75.73 L352.90 75.74 L353.15 75.76 L353.40 75.77" stroke="#3bb040"/>
</g>
<g stroke="#111" stroke-width="1.45" fill="none">
<rect x="39.90" y="10.85" width="313.70" height="472.95"/>
</g>
<g stroke="#111" stroke-width="1.2" fill="none">
<path d="M39.90 483.80 v-6.50 M39.90 10.85 v6.50"/>
<path d="M66.04 483.80 v-3.50 M66.04 10.85 v3.50"/>
<path d="M92.18 483.80 v-6.50 M92.18 10.85 v6.50"/>
<path d="M118.33 483.80 v-3.50 M118.33 10.85 v3.50"/>
<path d="M144.47 483.80 v-6.50 M144.47 10.85 v6.50"/>
<path d="M170.61 483.80 v-3.50 M170.61 10.85 v3.50"/>
<path d="M196.75 483.80 v-6.50 M196.75 10.85 v6.50"/>
<path d="M222.89 483.80 v-3.50 M222.89 10.85 v3.50"/>
<path d="M249.03 483.80 v-6.50 M249.03 10.85 v6.50"/>
<path d="M275.18 483.80 v-3.50 M275.18 10.85 v3.50"/>
<path d="M301.32 483.80 v-6.50 M301.32 10.85 v6.50"/>
<path d="M327.46 483.80 v-3.50 M327.46 10.85 v3.50"/>
<path d="M353.60 483.80 v-6.50 M353.60 10.85 v6.50"/>
<path d="M39.90 89.67 h6 M353.60 89.67 h-6"/>
<path d="M39.90 168.50 h6 M353.60 168.50 h-6"/>
<path d="M39.90 247.33 h6 M353.60 247.33 h-6"/>
<path d="M39.90 326.15 h6 M353.60 326.15 h-6"/>
<path d="M39.90 404.98 h6 M353.60 404.98 h-6"/>
<path d="M39.90 50.26 h3.5 M353.60 50.26 h-3.5"/>
<path d="M39.90 129.09 h3.5 M353.60 129.09 h-3.5"/>
<path d="M39.90 207.91 h3.5 M353.60 207.91 h-3.5"/>
<path d="M39.90 286.74 h3.5 M353.60 286.74 h-3.5"/>
<path d="M39.90 365.56 h3.5 M353.60 365.56 h-3.5"/>
<path d="M39.90 444.39 h3.5 M353.60 444.39 h-3.5"/>
</g>
<g font-family="'Liberation Sans', Arial, sans-serif" fill="#111" stroke="#111" stroke-width="0.3">
<text x="39.90" y="502.5" font-size="13.8" text-anchor="middle">6</text>
<text x="92.18" y="502.5" font-size="13.8" text-anchor="middle">8</text>
<text x="144.47" y="502.5" font-size="13.8" text-anchor="middle">10</text>
<text x="196.75" y="502.5" font-size="13.8" text-anchor="middle">12</text>
<text x="249.03" y="502.5" font-size="13.8" text-anchor="middle">14</text>
<text x="301.32" y="502.5" font-size="13.8" text-anchor="middle">16</text>
<text x="354.00" y="502.5" font-size="13.8" text-anchor="middle">18</text>
<text x="133.0" y="536.6" font-size="22.6" stroke="none">2<tspan font-family="'Liberation Serif', 'DejaVu Serif', serif">θ</tspan><tspan dx="1.2"> (degrees)</tspan></text>
<text transform="translate(23 334.5) rotate(-90)" font-size="22.6" stroke="none">Inensity (arb. units)</text>
<text x="297.7" y="55.6" font-size="12.8">20.2 GPa</text>
<text x="297.7" y="108.3" font-size="12.8">14.2 GPa</text>
<text x="297.7" y="209.4" font-size="12.8">13.0 GPa</text>
<text x="298.0" y="293.0" font-size="12.8">8.4 GPa</text>
<text x="305.0" y="369.0" font-size="12.8">5.1 GPa</text>
<text x="303.7" y="431.3" font-size="12.8">0.6 GPa</text>
<text transform="translate(85.3 122.6) rotate(-90)" font-size="12.7">110</text>
<text transform="translate(141.3 122.0) rotate(-90)" font-size="12.7">101/011</text>
<text transform="translate(185.3 109.0) rotate(-90)" font-size="12.7">200</text>
<text transform="translate(199.3 127.6) rotate(-90)" font-size="12.7">020/111</text>
<text transform="translate(218.8 141.6) rotate(-90)" font-size="12.7">210</text>
<text transform="translate(224.3 115.8) rotate(-90)" font-size="12.7">120</text>
<text transform="translate(277.3 128.0) rotate(-90)" font-size="12.7">211/121</text>
<text transform="translate(315.3 140.6) rotate(-90)" font-size="12.7">220</text>
<text transform="translate(81.8 444.8) rotate(-90)" font-size="12.7">110</text>
<text transform="translate(137.2 447.6) rotate(-90)" font-size="12.7">101</text>
<text transform="translate(180.5 427.2) rotate(-90)" font-size="12.7">200</text>
<text transform="translate(191.8 452.6) rotate(-90)" font-size="12.7">111</text>
<text transform="translate(211.8 462.4) rotate(-90)" font-size="12.7">210</text>
<text transform="translate(271.5 423.3) rotate(-90)" font-size="12.7">211</text>
<text transform="translate(304.6 461.9) rotate(-90)" font-size="12.7">220</text>
<text x="230.5" y="52.1" font-size="16" text-anchor="middle">*</text>
<text x="226.2" y="133.1" font-size="16" text-anchor="middle">*</text>
<text x="226.4" y="197.0" font-size="16" text-anchor="middle">*</text>
<text x="223.5" y="293.8" font-size="16" text-anchor="middle">*</text>
<text x="221.2" y="373.8" font-size="16" text-anchor="middle">*</text>
<text x="216.6" y="468.2" font-size="16" text-anchor="middle">*</text>
</g>
<path d="M221.2 116.8 V143" stroke="#777" stroke-width="1" fill="none"/>
</svg>
</body></html>
